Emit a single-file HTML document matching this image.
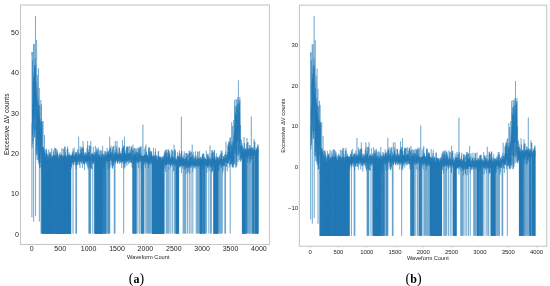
<!DOCTYPE html>
<html><head><meta charset="utf-8"><style>
html,body{margin:0;padding:0;background:#fff;}
body{width:550px;height:286px;overflow:hidden;position:relative;}
svg{position:absolute;left:0;top:0;}
.ta{font-family:"Liberation Sans",sans-serif;font-size:7.0px;fill:#222;}
.tb{font-family:"Liberation Sans",sans-serif;font-size:5.9px;fill:#222;}
.cap{font-family:"Liberation Serif",serif;font-size:14px;fill:#000;}
</style></head><body>
<svg width="550" height="286" viewBox="0 0 550 286">
<rect x="20.5" y="5" width="249" height="239.5" fill="none" stroke="#c8c8c8" stroke-width="1.1"/>
<rect x="299.4" y="5.2" width="247.3" height="241" fill="none" stroke="#c8c8c8" stroke-width="1.1"/>
<polygon points="45.00,155.81 45.50,155.81 46.00,155.80 46.50,155.80 47.00,155.79 47.50,155.78 48.00,155.78 48.50,155.77 49.00,155.77 49.50,155.76 50.00,155.76 50.50,155.75 51.00,155.74 51.50,155.74 52.00,155.73 52.50,155.73 53.00,155.72 53.50,155.71 54.00,155.71 54.50,155.70 55.00,155.70 55.50,155.69 56.00,155.68 56.50,155.68 57.00,155.67 57.50,155.67 58.00,155.66 58.50,155.65 59.00,155.65 59.50,155.64 60.00,155.64 60.50,155.63 61.00,155.63 61.50,155.62 62.00,155.61 62.50,155.61 63.00,155.60 63.50,155.60 64.00,155.59 64.50,155.58 65.00,155.58 65.50,155.57 66.00,155.57 66.50,155.56 67.00,155.55 67.50,155.55 68.00,155.54 68.50,155.54 69.00,155.53 69.50,155.52 70.00,155.52 70.50,155.51 71.00,155.51 71.50,155.50 72.00,155.50 72.50,155.47 73.00,155.44 73.50,155.41 74.00,155.39 74.50,155.36 75.00,155.33 75.50,155.31 76.00,155.28 76.50,155.25 77.00,155.23 77.50,155.20 78.00,155.17 78.50,155.15 79.00,155.12 79.50,155.09 80.00,155.07 80.50,155.04 81.00,155.01 81.50,154.99 82.00,154.96 82.50,154.93 83.00,154.91 83.50,154.88 84.00,154.85 84.50,154.83 85.00,154.80 85.50,154.77 86.00,154.75 86.50,154.72 87.00,154.69 87.50,154.67 88.00,154.64 88.50,154.64 89.00,154.64 89.50,154.64 90.00,154.64 90.50,154.64 91.00,154.64 91.50,154.64 92.00,154.65 92.50,154.65 93.00,154.65 93.50,154.65 94.00,154.65 94.50,154.65 95.00,154.65 95.50,154.65 96.00,154.65 96.50,154.65 97.00,154.65 97.50,154.65 98.00,154.65 98.50,154.65 99.00,154.65 99.50,154.66 100.00,154.66 100.50,154.66 101.00,154.66 101.50,154.66 102.00,154.66 102.50,154.66 103.00,154.66 103.50,154.66 104.00,154.66 104.50,154.66 105.00,154.66 105.50,154.66 106.00,154.66 106.50,154.67 107.00,154.67 107.50,154.67 108.00,154.67 108.50,154.67 109.00,154.67 109.50,154.67 110.00,154.67 110.50,154.67 111.00,154.67 111.50,154.67 112.00,154.67 112.50,154.67 113.00,154.67 113.50,154.67 114.00,154.68 114.50,154.68 115.00,154.68 115.50,154.68 116.00,154.68 116.50,154.68 117.00,154.68 117.50,154.68 118.00,154.68 118.50,154.68 119.00,154.68 119.50,154.68 120.00,154.68 120.50,154.68 121.00,154.68 121.50,154.69 122.00,154.69 122.50,154.69 123.00,154.69 123.50,154.69 124.00,154.69 124.50,154.69 125.00,154.69 125.50,154.69 126.00,154.69 126.50,154.69 127.00,154.69 127.50,154.69 128.00,154.69 128.50,154.69 129.00,154.70 129.50,154.70 130.00,154.70 130.50,154.70 131.00,154.70 131.50,154.70 132.00,154.70 132.50,154.70 133.00,154.70 133.50,154.70 134.00,154.70 134.50,154.70 135.00,154.70 135.50,154.70 136.00,154.71 136.50,154.75 137.00,154.80 137.50,154.85 138.00,154.90 138.50,154.95 139.00,155.00 139.50,155.04 140.00,155.09 140.50,155.14 141.00,155.19 141.50,155.24 142.00,155.29 142.50,155.33 143.00,155.38 143.50,155.43 144.00,155.48 144.50,155.53 145.00,155.58 145.50,155.62 146.00,155.67 146.50,155.72 147.00,155.77 147.50,155.82 148.00,155.87 148.50,155.91 149.00,155.96 149.50,156.01 150.00,156.06 150.50,156.11 151.00,156.16 151.50,156.20 152.00,156.25 152.50,156.30 153.00,156.35 153.50,156.40 154.00,156.45 154.50,156.50 155.00,156.54 155.50,156.59 156.00,156.64 156.50,156.69 157.00,156.74 157.50,156.79 158.00,156.83 158.50,156.88 159.00,156.93 159.50,156.98 160.00,157.03 160.50,157.08 161.00,157.12 161.50,157.17 162.00,157.22 162.50,157.27 163.00,157.32 163.50,157.37 164.00,157.41 164.50,157.46 165.00,157.51 165.50,157.56 166.00,157.61 166.50,157.66 167.00,157.70 167.50,157.75 168.00,157.80 168.50,157.85 169.00,157.90 169.50,157.95 170.00,158.00 170.50,158.04 171.00,158.09 171.50,158.14 172.00,158.19 172.50,158.24 173.00,158.29 173.50,158.33 174.00,158.38 174.50,158.43 175.00,158.48 175.50,158.53 176.00,158.58 176.50,158.62 177.00,158.67 177.50,158.72 178.00,158.77 178.50,158.82 179.00,158.87 179.50,158.91 180.00,158.96 180.50,159.01 181.00,159.06 181.50,159.11 182.00,159.16 182.50,159.20 183.00,159.25 183.50,159.30 184.00,159.35 184.50,159.34 185.00,159.34 185.50,159.33 186.00,159.32 186.50,159.32 187.00,159.31 187.50,159.31 188.00,159.30 188.50,159.29 189.00,159.29 189.50,159.28 190.00,159.28 190.50,159.27 191.00,159.26 191.50,159.26 192.00,159.25 192.50,159.24 193.00,159.24 193.50,159.23 194.00,159.22 194.50,159.22 195.00,159.21 195.50,159.21 196.00,159.20 196.50,159.19 197.00,159.19 197.50,159.18 198.00,159.17 198.50,159.17 199.00,159.16 199.50,159.16 200.00,159.15 200.50,159.14 201.00,159.14 201.50,159.13 202.00,159.12 202.50,159.12 203.00,159.11 203.50,159.11 204.00,159.10 204.50,159.09 205.00,159.09 205.50,159.08 206.00,159.07 206.50,159.07 207.00,159.06 207.50,159.06 208.00,159.05 208.50,159.04 209.00,159.04 209.50,159.03 210.00,159.03 210.50,159.02 211.00,159.01 211.50,159.01 212.00,159.00 212.50,158.99 213.00,158.99 213.50,158.98 214.00,158.97 214.50,158.97 215.00,158.96 215.50,158.96 216.00,158.95 216.50,158.94 217.00,158.94 217.50,158.93 218.00,158.92 218.50,158.92 219.00,158.91 219.50,158.91 220.00,158.90 220.50,158.89 221.00,158.89 221.50,158.88 222.00,158.88 222.50,158.87 223.00,158.86 223.50,158.86 224.00,158.85 224.50,158.27 225.00,157.70 225.50,157.12 226.00,156.55 226.50,155.97 227.00,155.39 227.50,154.82 228.00,154.24 228.50,154.24 228.50,162.56 228.00,162.56 227.50,162.88 227.00,163.21 226.50,163.53 226.00,163.85 225.50,164.18 225.00,164.50 224.50,164.83 224.00,165.15 223.50,165.16 223.00,165.16 222.50,165.17 222.00,165.18 221.50,165.18 221.00,165.19 220.50,165.19 220.00,165.20 219.50,165.21 219.00,165.21 218.50,165.22 218.00,165.22 217.50,165.23 217.00,165.24 216.50,165.24 216.00,165.25 215.50,165.26 215.00,165.26 214.50,165.27 214.00,165.28 213.50,165.28 213.00,165.29 212.50,165.29 212.00,165.30 211.50,165.31 211.00,165.31 210.50,165.32 210.00,165.33 209.50,165.33 209.00,165.34 208.50,165.34 208.00,165.35 207.50,165.36 207.00,165.36 206.50,165.37 206.00,165.38 205.50,165.38 205.00,165.39 204.50,165.39 204.00,165.40 203.50,165.41 203.00,165.41 202.50,165.42 202.00,165.43 201.50,165.43 201.00,165.44 200.50,165.44 200.00,165.45 199.50,165.46 199.00,165.46 198.50,165.47 198.00,165.47 197.50,165.48 197.00,165.49 196.50,165.49 196.00,165.50 195.50,165.51 195.00,165.51 194.50,165.52 194.00,165.53 193.50,165.53 193.00,165.54 192.50,165.54 192.00,165.55 191.50,165.56 191.00,165.56 190.50,165.57 190.00,165.58 189.50,165.58 189.00,165.59 188.50,165.59 188.00,165.60 187.50,165.61 187.00,165.61 186.50,165.62 186.00,165.62 185.50,165.63 185.00,165.64 184.50,165.64 184.00,165.65 183.50,165.60 183.00,165.55 182.50,165.50 182.00,165.45 181.50,165.40 181.00,165.35 180.50,165.30 180.00,165.25 179.50,165.19 179.00,165.14 178.50,165.09 178.00,165.04 177.50,164.99 177.00,164.94 176.50,164.89 176.00,164.84 175.50,164.79 175.00,164.74 174.50,164.69 174.00,164.64 173.50,164.59 173.00,164.54 172.50,164.49 172.00,164.44 171.50,164.39 171.00,164.34 170.50,164.28 170.00,164.23 169.50,164.18 169.00,164.13 168.50,164.08 168.00,164.03 167.50,163.98 167.00,163.93 166.50,163.88 166.00,163.83 165.50,163.78 165.00,163.73 164.50,163.68 164.00,163.63 163.50,163.58 163.00,163.53 162.50,163.48 162.00,163.42 161.50,163.37 161.00,163.32 160.50,163.27 160.00,163.22 159.50,163.17 159.00,163.12 158.50,163.07 158.00,163.02 157.50,162.97 157.00,162.92 156.50,162.87 156.00,162.82 155.50,162.77 155.00,162.72 154.50,162.67 154.00,162.62 153.50,162.57 153.00,162.51 152.50,162.46 152.00,162.41 151.50,162.36 151.00,162.31 150.50,162.26 150.00,162.21 149.50,162.16 149.00,162.11 148.50,162.06 148.00,162.01 147.50,161.96 147.00,161.91 146.50,161.86 146.00,161.81 145.50,161.76 145.00,161.71 144.50,161.65 144.00,161.60 143.50,161.55 143.00,161.50 142.50,161.45 142.00,161.40 141.50,161.35 141.00,161.30 140.50,161.25 140.00,161.20 139.50,161.15 139.00,161.10 138.50,161.05 138.00,161.00 137.50,160.95 137.00,160.90 136.50,160.85 136.00,160.79 135.50,160.80 135.00,160.81 134.50,160.81 134.00,160.82 133.50,160.82 133.00,160.83 132.50,160.84 132.00,160.84 131.50,160.85 131.00,160.85 130.50,160.86 130.00,160.87 129.50,160.87 129.00,160.88 128.50,160.88 128.00,160.89 127.50,160.90 127.00,160.90 126.50,160.91 126.00,160.91 125.50,160.92 125.00,160.92 124.50,160.93 124.00,160.94 123.50,160.94 123.00,160.95 122.50,160.95 122.00,160.96 121.50,160.97 121.00,160.97 120.50,160.98 120.00,160.98 119.50,160.99 119.00,161.00 118.50,161.00 118.00,161.01 117.50,161.01 117.00,161.02 116.50,161.02 116.00,161.03 115.50,161.04 115.00,161.04 114.50,161.05 114.00,161.05 113.50,161.06 113.00,161.07 112.50,161.07 112.00,161.08 111.50,161.08 111.00,161.09 110.50,161.10 110.00,161.10 109.50,161.11 109.00,161.11 108.50,161.12 108.00,161.12 107.50,161.13 107.00,161.14 106.50,161.14 106.00,161.15 105.50,161.15 105.00,161.16 104.50,161.17 104.00,161.17 103.50,161.18 103.00,161.18 102.50,161.19 102.00,161.20 101.50,161.20 101.00,161.21 100.50,161.21 100.00,161.22 99.50,161.22 99.00,161.23 98.50,161.24 98.00,161.24 97.50,161.25 97.00,161.25 96.50,161.26 96.00,161.27 95.50,161.27 95.00,161.28 94.50,161.28 94.00,161.29 93.50,161.30 93.00,161.30 92.50,161.31 92.00,161.31 91.50,161.32 91.00,161.32 90.50,161.33 90.00,161.34 89.50,161.34 89.00,161.35 88.50,161.35 88.00,161.36 87.50,161.38 87.00,161.40 86.50,161.42 86.00,161.44 85.50,161.46 85.00,161.48 84.50,161.50 84.00,161.52 83.50,161.54 83.00,161.56 82.50,161.58 82.00,161.60 81.50,161.62 81.00,161.64 80.50,161.66 80.00,161.68 79.50,161.70 79.00,161.72 78.50,161.74 78.00,161.76 77.50,161.78 77.00,161.80 76.50,161.82 76.00,161.84 75.50,161.86 75.00,161.88 74.50,161.90 74.00,161.92 73.50,161.94 73.00,161.96 72.50,161.98 72.00,162.00 71.50,162.01 71.00,162.01 70.50,162.01 70.00,162.01 69.50,162.02 69.00,162.02 68.50,162.02 68.00,162.02 67.50,162.03 67.00,162.03 66.50,162.03 66.00,162.03 65.50,162.04 65.00,162.04 64.50,162.04 64.00,162.04 63.50,162.05 63.00,162.05 62.50,162.05 62.00,162.05 61.50,162.06 61.00,162.06 60.50,162.06 60.00,162.06 59.50,162.07 59.00,162.07 58.50,162.07 58.00,162.07 57.50,162.08 57.00,162.08 56.50,162.08 56.00,162.08 55.50,162.08 55.00,162.09 54.50,162.09 54.00,162.09 53.50,162.09 53.00,162.10 52.50,162.10 52.00,162.10 51.50,162.10 51.00,162.11 50.50,162.11 50.00,162.11 49.50,162.11 49.00,162.12 48.50,162.12 48.00,162.12 47.50,162.12 47.00,162.13 46.50,162.13 46.00,162.13 45.50,162.13 45.00,162.14" fill="#1f77b4" fill-opacity="0.35"/>
<polygon points="242.00,149.91 242.50,149.91 243.00,149.91 243.50,149.91 244.00,149.91 244.50,149.91 245.00,149.91 245.50,149.91 246.00,149.91 246.50,149.91 247.00,149.91 247.50,149.91 248.00,149.91 248.50,149.91 249.00,149.91 249.50,149.91 250.00,149.91 250.50,149.91 251.00,149.91 251.50,149.91 252.00,149.91 252.50,149.91 253.00,149.91 253.50,149.91 254.00,149.91 254.50,149.91 255.00,149.91 255.50,149.91 256.00,149.91 256.50,149.91 257.00,149.91 257.50,149.91 258.00,149.91 258.50,149.91 258.80,149.91 258.80,155.59 258.50,155.59 258.00,155.59 257.50,155.59 257.00,155.59 256.50,155.59 256.00,155.59 255.50,155.59 255.00,155.59 254.50,155.59 254.00,155.59 253.50,155.59 253.00,155.59 252.50,155.59 252.00,155.59 251.50,155.59 251.00,155.59 250.50,155.59 250.00,155.59 249.50,155.59 249.00,155.59 248.50,155.59 248.00,155.59 247.50,155.59 247.00,155.59 246.50,155.59 246.00,155.59 245.50,155.59 245.00,155.59 244.50,155.59 244.00,155.59 243.50,155.59 243.00,155.59 242.50,155.59 242.00,155.59" fill="#1f77b4" fill-opacity="0.35"/>
<polygon points="323.60,157.26 324.09,157.25 324.59,157.25 325.08,157.24 325.58,157.24 326.08,157.23 326.57,157.22 327.07,157.22 327.57,157.21 328.06,157.21 328.56,157.20 329.05,157.19 329.55,157.19 330.05,157.18 330.54,157.18 331.04,157.17 331.53,157.16 332.03,157.16 332.53,157.15 333.02,157.15 333.52,157.14 334.01,157.14 334.51,157.13 335.01,157.12 335.50,157.12 336.00,157.11 336.49,157.11 336.99,157.10 337.49,157.09 337.98,157.09 338.48,157.08 338.98,157.08 339.47,157.07 339.97,157.06 340.46,157.06 340.96,157.05 341.46,157.05 341.95,157.04 342.45,157.03 342.94,157.03 343.44,157.02 343.94,157.02 344.43,157.01 344.93,157.00 345.42,157.00 345.92,156.99 346.42,156.99 346.91,156.98 347.41,156.97 347.90,156.97 348.40,156.96 348.90,156.96 349.39,156.95 349.89,156.94 350.39,156.94 350.88,156.91 351.38,156.88 351.87,156.86 352.37,156.83 352.87,156.80 353.36,156.78 353.86,156.75 354.35,156.72 354.85,156.69 355.35,156.67 355.84,156.64 356.34,156.61 356.83,156.59 357.33,156.56 357.83,156.53 358.32,156.51 358.82,156.48 359.31,156.45 359.81,156.43 360.31,156.40 360.80,156.37 361.30,156.34 361.79,156.32 362.29,156.29 362.79,156.26 363.28,156.24 363.78,156.21 364.28,156.18 364.77,156.16 365.27,156.13 365.76,156.10 366.26,156.07 366.76,156.08 367.25,156.08 367.75,156.08 368.24,156.08 368.74,156.08 369.24,156.08 369.73,156.08 370.23,156.08 370.72,156.08 371.22,156.08 371.72,156.08 372.21,156.08 372.71,156.08 373.20,156.08 373.70,156.08 374.20,156.09 374.69,156.09 375.19,156.09 375.69,156.09 376.18,156.09 376.68,156.09 377.17,156.09 377.67,156.09 378.17,156.09 378.66,156.09 379.16,156.09 379.65,156.09 380.15,156.09 380.65,156.09 381.14,156.09 381.64,156.10 382.13,156.10 382.63,156.10 383.13,156.10 383.62,156.10 384.12,156.10 384.61,156.10 385.11,156.10 385.61,156.10 386.10,156.10 386.60,156.10 387.10,156.10 387.59,156.10 388.09,156.10 388.58,156.11 389.08,156.11 389.58,156.11 390.07,156.11 390.57,156.11 391.06,156.11 391.56,156.11 392.06,156.11 392.55,156.11 393.05,156.11 393.54,156.11 394.04,156.11 394.54,156.11 395.03,156.11 395.53,156.11 396.02,156.12 396.52,156.12 397.02,156.12 397.51,156.12 398.01,156.12 398.50,156.12 399.00,156.12 399.50,156.12 399.99,156.12 400.49,156.12 400.99,156.12 401.48,156.12 401.98,156.12 402.47,156.12 402.97,156.12 403.47,156.13 403.96,156.13 404.46,156.13 404.95,156.13 405.45,156.13 405.95,156.13 406.44,156.13 406.94,156.13 407.43,156.13 407.93,156.13 408.43,156.13 408.92,156.13 409.42,156.13 409.91,156.13 410.41,156.14 410.91,156.14 411.40,156.14 411.90,156.14 412.40,156.14 412.89,156.14 413.39,156.14 413.88,156.14 414.38,156.19 414.88,156.24 415.37,156.29 415.87,156.34 416.36,156.38 416.86,156.43 417.36,156.48 417.85,156.53 418.35,156.58 418.84,156.63 419.34,156.68 419.84,156.73 420.33,156.78 420.83,156.82 421.32,156.87 421.82,156.92 422.32,156.97 422.81,157.02 423.31,157.07 423.81,157.12 424.30,157.17 424.80,157.22 425.29,157.26 425.79,157.31 426.29,157.36 426.78,157.41 427.28,157.46 427.77,157.51 428.27,157.56 428.77,157.61 429.26,157.65 429.76,157.70 430.25,157.75 430.75,157.80 431.25,157.85 431.74,157.90 432.24,157.95 432.73,158.00 433.23,158.05 433.73,158.09 434.22,158.14 434.72,158.19 435.22,158.24 435.71,158.29 436.21,158.34 436.70,158.39 437.20,158.44 437.70,158.49 438.19,158.53 438.69,158.58 439.18,158.63 439.68,158.68 440.18,158.73 440.67,158.78 441.17,158.83 441.66,158.88 442.16,158.93 442.66,158.97 443.15,159.02 443.65,159.07 444.14,159.12 444.64,159.17 445.14,159.22 445.63,159.27 446.13,159.32 446.62,159.37 447.12,159.41 447.62,159.46 448.11,159.51 448.61,159.56 449.11,159.61 449.60,159.66 450.10,159.71 450.59,159.76 451.09,159.80 451.59,159.85 452.08,159.90 452.58,159.95 453.07,160.00 453.57,160.05 454.07,160.10 454.56,160.15 455.06,160.20 455.55,160.24 456.05,160.29 456.55,160.34 457.04,160.39 457.54,160.44 458.03,160.49 458.53,160.54 459.03,160.59 459.52,160.64 460.02,160.68 460.52,160.73 461.01,160.78 461.51,160.83 462.00,160.82 462.50,160.82 463.00,160.81 463.49,160.81 463.99,160.80 464.48,160.79 464.98,160.79 465.48,160.78 465.97,160.77 466.47,160.77 466.96,160.76 467.46,160.76 467.96,160.75 468.45,160.74 468.95,160.74 469.44,160.73 469.94,160.72 470.44,160.72 470.93,160.71 471.43,160.70 471.93,160.70 472.42,160.69 472.92,160.69 473.41,160.68 473.91,160.67 474.41,160.67 474.90,160.66 475.40,160.65 475.89,160.65 476.39,160.64 476.89,160.64 477.38,160.63 477.88,160.62 478.37,160.62 478.87,160.61 479.37,160.60 479.86,160.60 480.36,160.59 480.85,160.59 481.35,160.58 481.85,160.57 482.34,160.57 482.84,160.56 483.34,160.55 483.83,160.55 484.33,160.54 484.82,160.53 485.32,160.53 485.82,160.52 486.31,160.52 486.81,160.51 487.30,160.50 487.80,160.50 488.30,160.49 488.79,160.48 489.29,160.48 489.78,160.47 490.28,160.47 490.78,160.46 491.27,160.45 491.77,160.45 492.26,160.44 492.76,160.43 493.26,160.43 493.75,160.42 494.25,160.41 494.74,160.41 495.24,160.40 495.74,160.40 496.23,160.39 496.73,160.38 497.23,160.38 497.72,160.37 498.22,160.36 498.71,160.36 499.21,160.35 499.71,160.35 500.20,160.34 500.70,160.33 501.19,160.33 501.69,159.74 502.19,159.16 502.68,158.58 503.18,158.00 503.67,157.42 504.17,156.84 504.67,156.25 505.16,155.67 505.66,155.67 505.66,164.07 505.16,164.07 504.67,164.40 504.17,164.73 503.67,165.05 503.18,165.38 502.68,165.71 502.19,166.03 501.69,166.36 501.19,166.69 500.70,166.70 500.20,166.70 499.71,166.71 499.21,166.71 498.71,166.72 498.22,166.73 497.72,166.73 497.23,166.74 496.73,166.75 496.23,166.75 495.74,166.76 495.24,166.76 494.74,166.77 494.25,166.78 493.75,166.78 493.26,166.79 492.76,166.80 492.26,166.80 491.77,166.81 491.27,166.82 490.78,166.82 490.28,166.83 489.78,166.83 489.29,166.84 488.79,166.85 488.30,166.85 487.80,166.86 487.30,166.87 486.81,166.87 486.31,166.88 485.82,166.88 485.32,166.89 484.82,166.90 484.33,166.90 483.83,166.91 483.34,166.92 482.84,166.92 482.34,166.93 481.85,166.94 481.35,166.94 480.85,166.95 480.36,166.95 479.86,166.96 479.37,166.97 478.87,166.97 478.37,166.98 477.88,166.99 477.38,166.99 476.89,167.00 476.39,167.00 475.89,167.01 475.40,167.02 474.90,167.02 474.41,167.03 473.91,167.04 473.41,167.04 472.92,167.05 472.42,167.06 471.93,167.06 471.43,167.07 470.93,167.07 470.44,167.08 469.94,167.09 469.44,167.09 468.95,167.10 468.45,167.11 467.96,167.11 467.46,167.12 466.96,167.12 466.47,167.13 465.97,167.14 465.48,167.14 464.98,167.15 464.48,167.16 463.99,167.16 463.49,167.17 463.00,167.17 462.50,167.18 462.00,167.19 461.51,167.19 461.01,167.14 460.52,167.09 460.02,167.04 459.52,166.99 459.03,166.94 458.53,166.89 458.03,166.84 457.54,166.79 457.04,166.73 456.55,166.68 456.05,166.63 455.55,166.58 455.06,166.53 454.56,166.48 454.07,166.43 453.57,166.38 453.07,166.33 452.58,166.27 452.08,166.22 451.59,166.17 451.09,166.12 450.59,166.07 450.10,166.02 449.60,165.97 449.11,165.92 448.61,165.87 448.11,165.81 447.62,165.76 447.12,165.71 446.62,165.66 446.13,165.61 445.63,165.56 445.14,165.51 444.64,165.46 444.14,165.41 443.65,165.36 443.15,165.30 442.66,165.25 442.16,165.20 441.66,165.15 441.17,165.10 440.67,165.05 440.18,165.00 439.68,164.95 439.18,164.90 438.69,164.84 438.19,164.79 437.70,164.74 437.20,164.69 436.70,164.64 436.21,164.59 435.71,164.54 435.22,164.49 434.72,164.44 434.22,164.38 433.73,164.33 433.23,164.28 432.73,164.23 432.24,164.18 431.74,164.13 431.25,164.08 430.75,164.03 430.25,163.98 429.76,163.93 429.26,163.87 428.77,163.82 428.27,163.77 427.77,163.72 427.28,163.67 426.78,163.62 426.29,163.57 425.79,163.52 425.29,163.47 424.80,163.41 424.30,163.36 423.81,163.31 423.31,163.26 422.81,163.21 422.32,163.16 421.82,163.11 421.32,163.06 420.83,163.01 420.33,162.95 419.84,162.90 419.34,162.85 418.84,162.80 418.35,162.75 417.85,162.70 417.36,162.65 416.86,162.60 416.36,162.55 415.87,162.49 415.37,162.44 414.88,162.39 414.38,162.34 413.88,162.29 413.39,162.30 412.89,162.30 412.40,162.31 411.90,162.31 411.40,162.32 410.91,162.33 410.41,162.33 409.91,162.34 409.42,162.34 408.92,162.35 408.43,162.36 407.93,162.36 407.43,162.37 406.94,162.37 406.44,162.38 405.95,162.39 405.45,162.39 404.95,162.40 404.46,162.40 403.96,162.41 403.47,162.42 402.97,162.42 402.47,162.43 401.98,162.43 401.48,162.44 400.99,162.45 400.49,162.45 399.99,162.46 399.50,162.46 399.00,162.47 398.50,162.47 398.01,162.48 397.51,162.49 397.02,162.49 396.52,162.50 396.02,162.50 395.53,162.51 395.03,162.52 394.54,162.52 394.04,162.53 393.54,162.53 393.05,162.54 392.55,162.55 392.06,162.55 391.56,162.56 391.06,162.56 390.57,162.57 390.07,162.58 389.58,162.58 389.08,162.59 388.58,162.59 388.09,162.60 387.59,162.61 387.10,162.61 386.60,162.62 386.10,162.62 385.61,162.63 385.11,162.64 384.61,162.64 384.12,162.65 383.62,162.65 383.13,162.66 382.63,162.67 382.13,162.67 381.64,162.68 381.14,162.68 380.65,162.69 380.15,162.69 379.65,162.70 379.16,162.71 378.66,162.71 378.17,162.72 377.67,162.72 377.17,162.73 376.68,162.74 376.18,162.74 375.69,162.75 375.19,162.75 374.69,162.76 374.20,162.77 373.70,162.77 373.20,162.78 372.71,162.78 372.21,162.79 371.72,162.80 371.22,162.80 370.72,162.81 370.23,162.81 369.73,162.82 369.24,162.83 368.74,162.83 368.24,162.84 367.75,162.84 367.25,162.85 366.76,162.86 366.26,162.86 365.76,162.88 365.27,162.90 364.77,162.92 364.28,162.94 363.78,162.96 363.28,162.98 362.79,163.00 362.29,163.02 361.79,163.04 361.30,163.06 360.80,163.09 360.31,163.11 359.81,163.13 359.31,163.15 358.82,163.17 358.32,163.19 357.83,163.21 357.33,163.23 356.83,163.25 356.34,163.27 355.84,163.29 355.35,163.31 354.85,163.33 354.35,163.35 353.86,163.37 353.36,163.39 352.87,163.41 352.37,163.43 351.87,163.45 351.38,163.47 350.88,163.49 350.39,163.51 349.89,163.52 349.39,163.52 348.90,163.52 348.40,163.52 347.90,163.52 347.41,163.53 346.91,163.53 346.42,163.53 345.92,163.53 345.42,163.54 344.93,163.54 344.43,163.54 343.94,163.54 343.44,163.55 342.94,163.55 342.45,163.55 341.95,163.55 341.46,163.56 340.96,163.56 340.46,163.56 339.97,163.56 339.47,163.57 338.98,163.57 338.48,163.57 337.98,163.57 337.49,163.58 336.99,163.58 336.49,163.58 336.00,163.58 335.50,163.59 335.01,163.59 334.51,163.59 334.01,163.59 333.52,163.60 333.02,163.60 332.53,163.60 332.03,163.60 331.53,163.61 331.04,163.61 330.54,163.61 330.05,163.61 329.55,163.62 329.05,163.62 328.56,163.62 328.06,163.62 327.57,163.62 327.07,163.63 326.57,163.63 326.08,163.63 325.58,163.63 325.08,163.64 324.59,163.64 324.09,163.64 323.60,163.64" fill="#1f77b4" fill-opacity="0.35"/>
<polygon points="519.05,151.30 519.55,151.30 520.05,151.30 520.54,151.30 521.04,151.30 521.53,151.30 522.03,151.30 522.53,151.30 523.02,151.30 523.52,151.30 524.01,151.30 524.51,151.30 525.01,151.30 525.50,151.30 526.00,151.30 526.49,151.30 526.99,151.30 527.49,151.30 527.98,151.30 528.48,151.30 528.97,151.30 529.47,151.30 529.97,151.30 530.46,151.30 530.96,151.30 531.45,151.30 531.95,151.30 532.45,151.30 532.94,151.30 533.44,151.30 533.94,151.30 534.43,151.30 534.93,151.30 535.42,151.30 535.72,151.30 535.72,157.03 535.42,157.03 534.93,157.03 534.43,157.03 533.94,157.03 533.44,157.03 532.94,157.03 532.45,157.03 531.95,157.03 531.45,157.03 530.96,157.03 530.46,157.03 529.97,157.03 529.47,157.03 528.97,157.03 528.48,157.03 527.98,157.03 527.49,157.03 526.99,157.03 526.49,157.03 526.00,157.03 525.50,157.03 525.01,157.03 524.51,157.03 524.01,157.03 523.52,157.03 523.02,157.03 522.53,157.03 522.03,157.03 521.53,157.03 521.04,157.03 520.54,157.03 520.05,157.03 519.55,157.03 519.05,157.03" fill="#1f77b4" fill-opacity="0.35"/>
<path d="M31.80 55.0L31.86 52.0L31.91 217.2L31.97 131.4L32.03 123.2L32.08 141.4L32.14 148.0L32.20 133.3L32.25 132.7L32.31 131.6L32.37 52.0L32.42 96.2L32.48 121.8L32.54 109.5L32.59 135.4L32.65 60.0L32.71 108.0L32.76 113.5L32.82 144.0L32.88 104.1L32.93 129.9L32.99 141.0L33.05 138.1L33.10 124.7L33.16 90.4L33.22 82.4L33.27 116.9L33.33 113.3L33.39 62.0L33.44 60.0L33.50 44.0L33.56 113.2L33.61 221.6L33.67 76.6L33.73 125.6L33.78 78.8L33.84 80.3L33.90 129.7L33.95 128.2L34.01 72.9L34.07 101.3L34.12 115.2L34.18 104.4L34.24 92.9L34.29 105.2L34.35 44.0L34.41 60.0L34.46 133.1L34.52 122.7L34.58 65.0L34.63 137.5L34.69 76.2L34.75 67.2L34.80 98.7L34.86 137.1L34.92 127.2L34.97 76.6L35.03 104.8L35.09 68.2L35.14 71.2L35.20 85.2L35.26 58.0L35.31 117.9L35.37 89.3L35.43 105.9L35.48 16.0L35.54 216.0L35.60 125.2L35.65 130.2L35.71 101.3L35.77 65.0L35.82 77.1L35.88 92.4L35.94 100.0L35.99 92.5L36.05 129.2L36.11 92.1L36.16 81.8L36.22 92.3L36.28 154.1L36.33 98.1L36.39 93.5L36.45 129.6L36.50 100.6L36.56 155.4L36.62 40.0L36.67 121.6L36.73 142.1L36.79 149.0L36.84 120.6L36.90 87.6L36.96 150.5L37.01 126.7L37.07 127.7L37.13 160.0L37.18 111.1L37.24 131.7L37.30 109.4L37.35 119.0L37.41 144.4L37.47 75.0L37.52 131.6L37.58 109.8L37.64 136.6L37.69 139.2L37.75 107.9L37.81 154.1L37.86 133.0L37.92 97.6L37.98 138.1L38.03 144.9L38.09 159.4L38.15 133.2L38.20 100.8L38.26 141.4L38.32 104.1L38.37 163.6L38.43 68.0L38.49 104.3L38.54 121.6L38.60 118.7L38.66 157.7L38.71 119.3L38.77 136.2L38.83 111.4L38.88 161.1L38.94 118.2L39.00 139.5L39.05 140.1L39.11 141.9L39.17 105.3L39.22 152.0L39.28 157.9L39.34 88.0L39.39 221.6L39.45 114.7L39.51 162.6L39.56 158.7L39.62 119.3L39.68 167.9L39.73 160.4L39.79 134.1L39.85 167.1L39.90 107.9L39.96 105.1L40.02 114.8L40.07 167.5L40.13 121.1L40.19 154.5L40.24 140.4L40.30 130.9L40.36 162.5L40.41 140.6L40.47 153.9L40.53 139.3L40.58 142.9L40.64 139.5L40.70 123.0L40.75 130.6L40.81 129.9L40.87 100.0L40.92 145.4L40.98 118.7L41.04 233.6L41.09 172.3L41.15 151.7L41.21 131.6L41.26 144.3L41.32 142.1L41.38 127.4L41.43 142.2L41.49 104.0L41.55 147.1L41.60 173.4L41.66 147.3L41.72 233.6L41.77 121.6L41.83 156.8L41.89 122.9L41.94 127.5L42.00 143.6L42.06 233.6L42.11 168.2L42.17 121.0L42.23 233.6L42.28 165.0L42.34 233.6L42.40 146.1L42.45 233.6L42.51 167.3L42.57 233.6L42.62 147.2L42.68 163.1L42.74 233.6L42.79 161.0L42.85 233.6L42.91 147.3L42.96 233.6L43.02 153.6L43.08 121.0L43.13 233.6L43.19 150.7L43.25 233.6L43.30 150.9L43.36 233.6L43.42 147.8L43.47 233.6L43.53 147.3L43.59 233.6L43.64 150.4L43.70 163.4L43.76 233.6L43.81 150.6L43.87 233.6L43.93 159.4L43.98 233.6L44.04 151.4L44.10 159.8L44.15 233.6L44.21 152.5L44.27 233.6L44.32 164.2L44.38 233.6L44.44 162.7L44.49 135.0L44.55 233.6L44.61 233.6L44.66 158.6L44.72 233.6L44.78 149.5L44.83 165.3L44.89 233.6L44.95 160.6L45.00 233.6L45.06 163.9L45.12 233.6L45.17 153.0L45.23 156.2L45.29 157.8L45.34 157.5L45.40 165.3L45.46 156.4L45.51 233.6L45.57 160.6L45.63 154.2L45.68 155.0L45.74 160.3L45.80 157.9L45.85 159.4L45.91 149.6L45.97 233.6L46.02 159.0L46.08 233.6L46.14 157.0L46.19 233.6L46.25 158.5L46.31 233.6L46.36 148.7L46.42 233.6L46.48 159.3L46.53 162.1L46.59 233.6L46.65 150.9L46.70 233.6L46.76 157.1L46.82 233.6L46.87 153.0L46.93 155.2L46.99 233.6L47.04 162.1L47.10 233.6L47.16 161.1L47.21 233.6L47.27 154.1L47.33 233.6L47.38 165.2L47.44 233.6L47.50 160.3L47.55 159.6L47.61 233.6L47.67 155.5L47.72 233.6L47.78 163.4L47.84 233.6L47.89 161.4L47.95 233.6L48.01 161.7L48.06 233.6L48.12 159.7L48.18 233.6L48.23 168.4L48.29 159.5L48.35 233.6L48.40 160.7L48.46 233.6L48.52 159.7L48.57 233.6L48.63 159.6L48.69 233.6L48.74 157.5L48.80 149.5L48.86 233.6L48.91 156.8L48.97 233.6L49.03 156.8L49.08 233.6L49.14 154.0L49.20 233.6L49.25 157.3L49.31 233.6L49.37 160.5L49.42 233.6L49.48 153.0L49.54 160.1L49.59 233.6L49.65 152.4L49.71 233.6L49.76 158.8L49.82 233.6L49.88 153.8L49.93 166.9L49.99 233.6L50.05 154.8L50.10 160.2L50.16 160.0L50.22 161.1L50.27 159.5L50.33 233.6L50.39 163.3L50.44 164.1L50.50 154.5L50.56 157.1L50.61 151.8L50.67 158.2L50.73 168.3L50.78 233.6L50.84 160.1L50.90 233.6L50.95 160.6L51.01 233.6L51.07 158.1L51.12 233.6L51.18 158.2L51.24 233.6L51.29 157.9L51.35 158.4L51.41 233.6L51.46 166.1L51.52 233.6L51.58 148.5L51.63 233.6L51.69 157.6L51.75 233.6L51.80 166.8L51.86 233.6L51.92 161.1L51.97 159.9L52.03 233.6L52.09 155.7L52.14 233.6L52.20 157.8L52.26 233.6L52.31 168.2L52.37 233.6L52.43 157.6L52.48 233.6L52.54 160.7L52.60 155.5L52.65 233.6L52.71 163.5L52.77 233.6L52.82 156.9L52.88 233.6L52.94 160.9L52.99 233.6L53.05 158.8L53.11 233.6L53.16 165.3L53.22 233.6L53.28 149.9L53.33 153.3L53.39 233.6L53.45 164.6L53.50 233.6L53.56 152.2L53.62 233.6L53.67 161.8L53.73 233.6L53.79 154.9L53.84 161.0L53.90 158.8L53.96 157.9L54.01 165.0L54.07 159.6L54.13 158.3L54.18 158.9L54.24 156.1L54.30 233.6L54.35 158.1L54.41 164.5L54.47 155.3L54.52 160.4L54.58 161.9L54.64 147.8L54.69 158.1L54.75 233.6L54.81 157.4L54.86 158.8L54.92 233.6L54.98 155.8L55.03 233.6L55.09 155.0L55.15 233.6L55.20 157.1L55.26 233.6L55.32 162.7L55.37 233.6L55.43 148.7L55.49 164.0L55.54 233.6L55.60 158.6L55.66 233.6L55.71 148.1L55.77 233.6L55.83 158.6L55.88 156.2L55.94 233.6L56.00 159.0L56.05 233.6L56.11 162.2L56.17 233.6L56.22 160.3L56.28 233.6L56.34 154.6L56.39 233.6L56.45 164.5L56.51 162.9L56.56 233.6L56.62 149.2L56.68 233.6L56.73 152.4L56.79 233.6L56.85 163.2L56.90 233.6L56.96 155.5L57.02 233.6L57.07 156.4L57.13 157.7L57.19 233.6L57.24 159.2L57.30 233.6L57.36 168.9L57.41 233.6L57.47 150.5L57.53 233.6L57.58 152.8L57.64 158.8L57.70 233.6L57.75 157.1L57.81 233.6L57.87 161.1L57.92 233.6L57.98 158.0L58.04 233.6L58.09 156.9L58.15 169.4L58.21 233.6L58.26 233.6L58.32 161.9L58.38 154.6L58.43 233.6L58.49 162.0L58.55 233.6L58.60 162.4L58.66 233.6L58.72 163.5L58.77 233.6L58.83 159.7L58.89 159.2L58.94 233.6L59.00 164.3L59.06 233.6L59.11 160.0L59.17 158.7L59.23 233.6L59.28 233.6L59.34 161.4L59.40 160.6L59.45 233.6L59.51 153.8L59.57 233.6L59.62 159.3L59.68 233.6L59.74 158.7L59.79 233.6L59.85 158.7L59.91 233.6L59.96 156.9L60.02 152.1L60.08 233.6L60.13 155.2L60.19 233.6L60.25 156.3L60.30 233.6L60.36 160.8L60.42 233.6L60.47 160.8L60.53 155.7L60.59 233.6L60.64 158.1L60.70 233.6L60.76 162.1L60.81 233.6L60.87 162.8L60.93 157.5L60.98 233.6L61.04 233.6L61.10 154.1L61.15 163.1L61.21 233.6L61.27 162.7L61.32 233.6L61.38 153.9L61.44 233.6L61.49 164.2L61.55 233.6L61.61 156.3L61.66 233.6L61.72 161.0L61.78 155.1L61.83 233.6L61.89 148.3L61.95 233.6L62.00 159.8L62.06 233.6L62.12 158.5L62.17 155.5L62.23 233.6L62.29 233.6L62.34 161.6L62.40 160.2L62.46 233.6L62.51 156.8L62.57 233.6L62.63 160.5L62.68 233.6L62.74 159.2L62.80 164.0L62.85 233.6L62.91 163.2L62.97 233.6L63.02 157.5L63.08 233.6L63.14 160.2L63.19 233.6L63.25 154.5L63.31 148.7L63.36 233.6L63.42 157.1L63.48 233.6L63.53 159.3L63.59 233.6L63.65 161.0L63.70 233.6L63.76 155.9L63.82 233.6L63.87 158.5L63.93 233.6L63.99 158.8L64.04 156.4L64.10 233.6L64.16 149.1L64.21 233.6L64.27 156.5L64.33 233.6L64.38 155.2L64.44 233.6L64.50 146.5L64.55 233.6L64.61 157.2L64.67 158.4L64.72 233.6L64.78 162.0L64.84 233.6L64.89 158.2L64.95 233.6L65.01 158.0L65.06 160.4L65.12 233.6L65.18 156.4L65.23 233.6L65.29 146.8L65.35 233.6L65.40 155.3L65.46 233.6L65.52 152.5L65.57 233.6L65.63 162.6L65.69 233.6L65.74 160.5L65.80 161.4L65.86 233.6L65.91 157.3L65.97 233.6L66.03 165.3L66.08 233.6L66.14 162.3L66.20 158.3L66.25 233.6L66.31 159.8L66.37 233.6L66.42 161.0L66.48 233.6L66.54 164.2L66.59 233.6L66.65 155.8L66.71 158.2L66.76 233.6L66.82 156.5L66.88 233.6L66.93 163.8L66.99 233.6L67.05 149.4L67.10 233.6L67.16 161.6L67.22 233.6L67.27 159.1L67.33 233.6L67.38 156.0L67.44 233.6L67.50 163.9L67.55 146.5L67.61 233.6L67.67 156.7L67.72 233.6L67.78 148.9L67.84 233.6L67.89 159.5L67.95 157.5L68.01 233.6L68.06 154.5L68.12 233.6L68.18 162.1L68.23 233.6L68.29 164.3L68.35 233.6L68.40 157.9L68.46 233.6L68.52 160.6L68.57 157.4L68.63 233.6L68.69 159.5L68.74 233.6L68.80 153.9L68.86 233.6L68.91 165.1L68.97 233.6L69.03 152.3L69.08 159.6L69.14 233.6L69.20 155.1L69.25 233.6L69.31 164.6L69.37 233.6L69.42 154.8L69.48 233.6L69.54 156.0L69.59 161.9L69.65 233.6L69.71 157.5L69.76 233.6L69.82 154.8L69.88 233.6L69.93 161.3L69.99 233.6L70.05 158.4L70.10 156.4L70.16 233.6L70.22 156.3L70.27 233.6L70.33 158.2L70.39 233.6L70.44 156.4L70.50 233.6L70.56 160.7L70.61 233.6L70.67 156.8L70.73 233.6L70.78 158.0L70.84 159.2L70.90 154.9L70.95 154.4L71.01 163.8L71.07 166.1L71.12 160.7L71.18 168.7L71.24 159.5L71.29 155.9L71.35 155.8L71.41 167.0L71.46 160.0L71.52 155.2L71.58 162.7L71.63 157.4L71.69 156.4L71.75 157.2L71.80 163.6L71.86 159.8L71.92 159.8L71.97 160.6L72.03 158.5L72.09 161.8L72.14 156.4L72.20 152.4L72.26 161.7L72.31 162.0L72.37 157.2L72.43 163.4L72.48 162.5L72.54 158.5L72.60 152.5L72.65 157.5L72.71 156.0L72.77 158.6L72.82 154.1L72.88 164.1L72.94 159.1L72.99 148.7L73.05 233.6L73.11 154.0L73.16 159.0L73.22 157.5L73.28 157.5L73.33 150.9L73.39 165.6L73.45 155.7L73.50 163.7L73.56 159.5L73.62 160.3L73.67 154.9L73.73 155.1L73.79 160.2L73.84 156.0L73.90 160.9L73.96 155.8L74.01 161.6L74.07 156.0L74.13 161.6L74.18 162.1L74.24 147.7L74.30 154.8L74.35 157.7L74.41 158.3L74.47 156.5L74.52 162.0L74.58 159.8L74.64 158.4L74.69 159.3L74.75 159.3L74.81 158.1L74.86 160.6L74.92 163.2L74.98 165.0L75.03 162.0L75.09 157.1L75.15 155.5L75.20 154.2L75.26 157.4L75.32 158.0L75.37 160.8L75.43 152.6L75.49 158.0L75.54 161.9L75.60 153.4L75.66 164.4L75.71 159.4L75.77 154.3L75.83 233.6L75.88 160.2L75.94 152.6L76.00 154.7L76.05 152.1L76.11 168.9L76.17 158.4L76.22 154.5L76.28 157.1L76.34 155.6L76.39 155.5L76.45 156.1L76.51 233.6L76.56 153.3L76.62 156.2L76.68 158.2L76.73 156.9L76.79 162.4L76.85 151.7L76.90 157.6L76.96 162.0L77.02 163.7L77.07 164.3L77.13 156.8L77.19 158.9L77.24 156.9L77.30 155.0L77.36 157.8L77.41 155.9L77.47 149.3L77.53 156.1L77.58 165.4L77.64 157.1L77.70 159.5L77.75 158.5L77.81 164.0L77.87 156.5L77.92 158.7L77.98 159.4L78.04 160.9L78.09 160.5L78.15 157.9L78.21 156.6L78.26 161.5L78.32 155.2L78.38 154.9L78.43 157.8L78.49 152.3L78.55 155.6L78.60 136.7L78.66 161.9L78.72 153.6L78.77 157.8L78.83 155.4L78.89 154.4L78.94 160.9L79.00 157.2L79.06 153.3L79.11 164.7L79.17 157.9L79.23 159.8L79.28 155.7L79.34 164.2L79.40 165.1L79.45 156.5L79.51 154.4L79.57 155.5L79.62 158.6L79.68 158.1L79.74 156.0L79.79 158.7L79.85 158.0L79.91 161.0L79.96 160.3L80.02 168.0L80.08 162.3L80.13 158.4L80.19 146.2L80.25 161.9L80.30 161.5L80.36 149.0L80.42 158.2L80.47 156.3L80.53 157.5L80.59 153.6L80.64 160.9L80.70 157.6L80.76 156.8L80.81 160.7L80.87 162.4L80.93 162.1L80.98 154.6L81.04 157.1L81.10 158.4L81.15 157.5L81.21 158.4L81.27 158.5L81.32 149.8L81.38 153.8L81.44 152.2L81.49 163.9L81.55 162.2L81.61 157.4L81.66 155.9L81.72 147.6L81.78 157.7L81.83 152.9L81.89 162.1L81.95 147.3L82.00 153.7L82.06 158.1L82.12 159.4L82.17 158.2L82.23 155.9L82.29 155.4L82.34 160.6L82.40 158.6L82.46 148.1L82.51 167.9L82.57 158.1L82.63 157.3L82.68 155.2L82.74 161.6L82.80 153.3L82.85 156.2L82.91 153.8L82.97 158.9L83.02 141.0L83.08 153.6L83.14 155.3L83.19 153.7L83.25 164.0L83.31 146.8L83.36 153.0L83.42 148.8L83.48 163.8L83.53 159.9L83.59 157.5L83.65 156.7L83.70 156.6L83.76 160.9L83.82 156.1L83.87 162.5L83.93 156.5L83.99 159.1L84.04 156.9L84.10 160.4L84.16 163.0L84.21 158.8L84.27 159.2L84.33 153.2L84.38 162.9L84.44 165.0L84.50 157.9L84.55 170.0L84.61 161.9L84.67 162.2L84.72 161.6L84.78 152.6L84.84 160.7L84.89 159.4L84.95 156.7L85.01 160.3L85.06 161.4L85.12 156.3L85.18 159.6L85.23 157.9L85.29 163.2L85.35 160.0L85.40 156.5L85.46 156.2L85.52 154.5L85.57 161.6L85.63 152.1L85.69 154.5L85.74 160.3L85.80 160.6L85.86 159.4L85.91 156.1L85.97 161.3L86.03 158.9L86.08 163.5L86.14 154.2L86.20 154.8L86.25 160.5L86.31 159.0L86.37 161.1L86.42 155.6L86.48 158.5L86.54 156.0L86.59 157.7L86.65 153.0L86.71 157.6L86.76 157.1L86.82 161.6L86.88 164.0L86.93 148.4L86.99 149.3L87.05 158.3L87.10 165.9L87.16 154.8L87.22 160.5L87.27 161.1L87.33 158.8L87.39 161.2L87.44 154.0L87.50 156.9L87.56 156.8L87.61 141.0L87.67 162.4L87.73 157.6L87.78 145.6L87.84 159.2L87.90 157.2L87.95 167.5L88.01 159.4L88.07 156.4L88.12 169.5L88.18 156.9L88.24 157.8L88.29 152.3L88.35 155.0L88.41 155.5L88.46 155.0L88.52 160.0L88.58 157.4L88.63 151.9L88.69 155.8L88.75 152.1L88.80 153.0L88.86 233.6L88.92 149.4L88.97 158.1L89.03 161.3L89.09 154.8L89.14 157.9L89.20 167.1L89.26 153.0L89.31 154.7L89.37 155.3L89.43 233.6L89.48 160.2L89.54 145.8L89.60 160.2L89.65 159.5L89.71 157.0L89.77 163.6L89.82 145.4L89.88 159.0L89.94 157.3L89.99 233.6L90.05 162.9L90.11 158.8L90.16 159.9L90.22 158.2L90.28 157.2L90.33 168.0L90.39 159.8L90.45 158.6L90.50 158.3L90.56 233.6L90.62 146.2L90.67 153.4L90.73 152.3L90.79 141.0L90.84 145.4L90.90 168.3L90.96 161.8L91.01 162.7L91.07 154.7L91.13 157.0L91.18 154.2L91.24 158.4L91.30 155.4L91.35 158.3L91.41 155.5L91.47 157.3L91.52 168.6L91.58 159.0L91.64 161.0L91.69 160.4L91.75 158.7L91.81 153.7L91.86 158.4L91.92 158.7L91.98 169.2L92.03 153.3L92.09 155.1L92.15 161.6L92.20 157.2L92.26 156.1L92.32 152.9L92.37 157.4L92.43 163.7L92.49 153.5L92.54 157.6L92.60 161.1L92.66 157.9L92.71 155.5L92.77 233.6L92.83 157.9L92.88 162.9L92.94 154.9L93.00 161.4L93.05 155.7L93.11 158.9L93.17 158.9L93.22 146.8L93.28 162.8L93.34 156.7L93.39 159.6L93.45 164.1L93.51 164.3L93.56 157.0L93.62 159.8L93.68 156.6L93.73 158.3L93.79 156.1L93.85 154.8L93.90 157.2L93.96 158.9L94.02 159.0L94.07 153.5L94.13 157.1L94.19 161.1L94.24 162.2L94.30 161.7L94.36 162.2L94.41 157.6L94.47 151.8L94.53 153.2L94.58 158.4L94.64 156.4L94.70 161.3L94.75 159.7L94.81 233.6L94.87 155.4L94.92 233.6L94.98 157.5L95.04 233.6L95.09 153.0L95.15 153.3L95.21 233.6L95.26 233.6L95.32 164.4L95.38 145.8L95.43 233.6L95.49 157.1L95.55 233.6L95.60 154.4L95.66 233.6L95.72 162.7L95.77 151.8L95.83 233.6L95.89 158.2L95.94 233.6L96.00 158.8L96.06 233.6L96.11 162.0L96.17 233.6L96.23 156.2L96.28 233.6L96.34 164.5L96.40 233.6L96.45 154.0L96.51 159.2L96.57 233.6L96.62 150.1L96.68 233.6L96.74 147.9L96.79 233.6L96.85 152.4L96.91 152.8L96.96 233.6L97.02 158.0L97.08 233.6L97.13 151.9L97.19 233.6L97.25 157.0L97.30 159.5L97.36 233.6L97.42 233.6L97.47 158.8L97.53 158.0L97.59 233.6L97.64 149.4L97.70 233.6L97.76 158.1L97.81 233.6L97.87 156.8L97.93 233.6L97.98 161.1L98.04 159.6L98.10 233.6L98.15 160.5L98.21 233.6L98.27 147.5L98.32 233.6L98.38 157.4L98.44 233.6L98.49 164.0L98.55 233.6L98.61 157.2L98.66 155.0L98.72 233.6L98.78 156.5L98.83 233.6L98.89 153.1L98.95 150.9L99.00 233.6L99.06 153.9L99.12 233.6L99.17 163.9L99.23 233.6L99.29 154.6L99.34 233.6L99.40 158.2L99.46 233.6L99.51 155.6L99.57 158.0L99.63 233.6L99.68 160.0L99.74 233.6L99.80 159.3L99.85 233.6L99.91 159.2L99.97 233.6L100.02 149.7L100.08 233.6L100.14 157.0L100.19 163.0L100.25 233.6L100.31 159.5L100.36 233.6L100.42 159.6L100.48 233.6L100.53 159.6L100.59 166.9L100.65 233.6L100.70 151.1L100.76 233.6L100.82 156.5L100.87 233.6L100.93 160.4L100.99 233.6L101.04 158.0L101.10 233.6L101.16 158.0L101.21 233.6L101.27 156.5L101.33 158.1L101.38 233.6L101.44 158.9L101.50 233.6L101.55 156.2L101.61 233.6L101.67 155.0L101.72 150.4L101.78 233.6L101.84 163.4L101.89 233.6L101.95 157.2L102.01 233.6L102.06 158.9L102.12 233.6L102.18 153.1L102.23 161.9L102.29 158.8L102.35 233.6L102.40 161.4L102.46 153.6L102.52 158.0L102.57 159.1L102.63 145.8L102.69 233.6L102.74 161.0L102.80 169.1L102.86 162.2L102.91 168.8L102.97 158.9L103.03 233.6L103.08 158.0L103.14 159.7L103.20 160.8L103.25 159.5L103.31 157.3L103.37 233.6L103.42 158.9L103.48 163.2L103.54 154.5L103.59 156.4L103.65 154.7L103.71 233.6L103.76 157.1L103.82 161.1L103.88 161.3L103.93 161.1L103.99 158.7L104.05 233.6L104.10 158.6L104.16 166.3L104.22 151.2L104.27 160.0L104.33 162.2L104.39 233.6L104.44 156.0L104.50 168.7L104.56 156.6L104.61 156.6L104.67 233.6L104.73 158.1L104.78 158.3L104.84 158.8L104.90 154.8L104.95 162.4L105.01 233.6L105.07 161.0L105.12 160.6L105.18 159.0L105.24 150.8L105.29 161.4L105.35 233.6L105.41 162.7L105.46 158.4L105.52 160.1L105.58 153.2L105.63 158.6L105.69 233.6L105.75 154.3L105.80 152.7L105.86 163.4L105.92 158.2L105.97 157.7L106.03 233.6L106.09 156.3L106.14 156.6L106.20 155.7L106.26 158.7L106.31 233.6L106.37 166.1L106.43 155.3L106.48 154.9L106.54 160.5L106.60 155.0L106.65 155.9L106.71 157.9L106.77 157.4L106.82 157.5L106.88 152.0L106.94 155.3L106.99 160.0L107.05 157.9L107.11 148.0L107.16 161.7L107.22 161.1L107.28 156.2L107.33 158.7L107.39 162.8L107.45 157.7L107.50 162.2L107.56 154.2L107.62 151.9L107.67 233.6L107.73 150.8L107.79 153.0L107.84 159.1L107.90 169.2L107.96 153.2L108.01 157.2L108.07 157.8L108.13 154.7L108.18 233.6L108.24 162.4L108.30 158.8L108.35 159.1L108.41 159.7L108.47 151.6L108.52 158.0L108.58 154.5L108.64 160.9L108.69 155.3L108.75 233.6L108.81 154.6L108.86 161.0L108.92 157.4L108.98 153.8L109.03 161.4L109.09 169.2L109.15 149.9L109.20 162.1L109.26 233.6L109.32 159.8L109.37 155.2L109.43 164.7L109.49 158.6L109.54 159.9L109.60 159.6L109.66 154.2L109.71 136.6L109.77 233.6L109.83 160.5L109.88 160.6L109.94 153.3L110.00 156.0L110.05 149.5L110.11 159.0L110.17 155.8L110.22 157.6L110.28 147.9L110.34 154.0L110.39 148.0L110.45 157.6L110.51 152.9L110.56 161.0L110.62 160.6L110.68 154.5L110.73 156.8L110.79 156.9L110.85 162.8L110.90 167.5L110.96 161.1L111.02 145.7L111.07 155.6L111.13 159.3L111.19 153.2L111.24 157.2L111.30 157.7L111.36 155.2L111.41 158.3L111.47 158.1L111.53 159.3L111.58 157.1L111.64 164.9L111.70 155.6L111.75 151.9L111.81 156.3L111.87 160.0L111.92 158.0L111.98 158.5L112.04 152.2L112.09 153.2L112.15 161.8L112.21 149.1L112.26 153.3L112.32 160.9L112.38 163.3L112.43 153.7L112.49 168.8L112.55 156.5L112.60 147.2L112.66 163.1L112.72 167.9L112.77 163.3L112.83 159.1L112.89 154.8L112.94 166.8L113.00 162.7L113.06 164.9L113.11 157.0L113.17 156.8L113.23 156.4L113.28 153.0L113.34 146.2L113.40 160.6L113.45 165.5L113.51 160.2L113.57 161.3L113.62 161.8L113.68 158.7L113.74 159.3L113.79 161.0L113.85 145.8L113.91 160.2L113.96 156.7L114.02 158.8L114.08 156.2L114.13 159.8L114.19 161.4L114.25 150.9L114.30 233.6L114.36 158.3L114.42 161.2L114.47 153.7L114.53 154.7L114.59 154.3L114.64 153.2L114.70 158.0L114.76 153.0L114.81 156.4L114.87 159.0L114.93 161.3L114.98 233.6L115.04 157.1L115.10 161.9L115.15 163.5L115.21 160.1L115.27 154.8L115.32 141.0L115.38 156.2L115.44 163.6L115.49 158.4L115.55 161.2L115.61 157.0L115.66 153.6L115.72 155.2L115.78 162.4L115.83 152.1L115.89 160.3L115.95 154.4L116.00 158.4L116.06 156.8L116.12 160.3L116.17 149.1L116.23 158.6L116.29 159.0L116.34 159.7L116.40 152.1L116.46 158.1L116.51 155.1L116.57 158.3L116.63 146.3L116.68 158.7L116.74 149.4L116.80 155.9L116.85 158.9L116.91 158.9L116.97 153.7L117.02 141.0L117.08 162.3L117.14 161.7L117.19 152.3L117.25 154.8L117.31 155.5L117.36 159.4L117.42 159.2L117.48 163.4L117.53 156.0L117.59 162.7L117.65 163.7L117.70 158.8L117.76 155.1L117.82 159.0L117.87 156.6L117.93 154.1L117.99 155.4L118.04 155.5L118.10 158.3L118.16 161.8L118.21 156.9L118.27 159.9L118.33 160.6L118.38 157.8L118.44 157.0L118.50 154.1L118.55 157.1L118.61 152.8L118.67 158.0L118.72 159.1L118.78 160.2L118.84 156.0L118.89 162.3L118.95 156.5L119.01 147.4L119.06 156.1L119.12 160.5L119.18 155.7L119.23 155.8L119.29 147.6L119.35 152.1L119.40 158.4L119.46 155.4L119.52 148.7L119.57 164.0L119.63 153.6L119.69 154.4L119.74 156.9L119.80 159.0L119.86 158.2L119.91 158.6L119.97 155.5L120.03 161.3L120.08 162.0L120.14 155.2L120.20 153.3L120.25 156.4L120.31 159.6L120.37 159.7L120.42 157.9L120.48 155.2L120.54 157.0L120.59 158.7L120.65 163.0L120.71 158.8L120.76 159.5L120.82 153.1L120.88 160.4L120.93 153.3L120.99 151.1L121.05 162.4L121.10 155.3L121.16 161.3L121.22 153.2L121.27 159.6L121.33 159.1L121.39 154.8L121.44 159.8L121.50 156.6L121.56 160.9L121.61 158.0L121.67 156.4L121.73 167.9L121.78 158.9L121.84 159.0L121.90 161.9L121.95 155.5L122.01 148.2L122.07 158.4L122.12 155.3L122.18 158.4L122.24 161.8L122.29 156.0L122.35 163.5L122.41 158.3L122.46 150.9L122.52 140.0L122.58 155.2L122.63 153.5L122.69 149.8L122.75 149.0L122.80 157.2L122.86 158.4L122.92 152.8L122.97 147.4L123.03 161.4L123.09 147.8L123.14 156.1L123.20 156.3L123.26 159.8L123.31 153.3L123.37 161.5L123.43 157.1L123.48 158.7L123.54 145.8L123.60 160.4L123.65 233.6L123.71 148.1L123.77 155.6L123.82 160.0L123.88 157.3L123.94 158.5L123.99 168.9L124.05 157.2L124.11 156.6L124.16 145.6L124.22 163.3L124.28 151.9L124.33 163.5L124.39 160.7L124.45 156.8L124.50 136.7L124.56 155.6L124.62 166.5L124.67 152.3L124.73 159.2L124.79 150.0L124.84 155.7L124.90 167.7L124.96 157.8L125.01 158.1L125.07 155.2L125.13 153.2L125.18 157.7L125.24 155.9L125.30 155.4L125.35 162.8L125.41 156.9L125.47 154.3L125.52 161.5L125.58 154.2L125.64 158.6L125.69 159.5L125.75 153.7L125.81 153.7L125.86 163.9L125.92 158.7L125.98 160.7L126.03 156.2L126.09 157.8L126.15 154.5L126.20 155.9L126.26 149.7L126.32 160.1L126.37 154.0L126.43 156.0L126.49 147.8L126.54 152.5L126.60 159.3L126.66 151.8L126.71 147.1L126.77 158.4L126.83 155.6L126.88 165.9L126.94 156.0L127.00 161.9L127.05 146.4L127.11 157.1L127.17 162.3L127.22 159.3L127.28 159.3L127.34 160.8L127.39 146.9L127.45 155.8L127.51 158.2L127.56 159.5L127.62 157.6L127.68 159.3L127.73 157.5L127.79 159.5L127.85 146.4L127.90 158.7L127.96 155.6L128.02 160.1L128.07 152.9L128.13 155.4L128.19 154.7L128.24 157.0L128.30 158.4L128.36 163.9L128.41 156.1L128.47 160.8L128.53 154.4L128.58 155.5L128.64 159.4L128.70 160.5L128.75 157.9L128.81 146.8L128.87 150.2L128.92 158.6L128.98 152.8L129.04 159.0L129.09 154.8L129.15 163.3L129.21 153.1L129.26 156.4L129.32 153.6L129.38 155.5L129.43 156.8L129.49 152.5L129.55 160.1L129.60 157.4L129.66 158.0L129.72 154.7L129.77 162.7L129.83 145.7L129.89 154.4L129.94 157.9L130.00 156.7L130.06 158.3L130.11 157.0L130.17 159.0L130.23 157.7L130.28 157.4L130.34 162.5L130.40 159.8L130.45 152.4L130.51 160.8L130.57 161.7L130.62 153.9L130.68 149.6L130.74 155.6L130.79 155.3L130.85 154.9L130.91 157.3L130.96 154.2L131.02 157.8L131.08 158.3L131.13 156.7L131.19 157.6L131.25 156.1L131.30 147.5L131.36 159.2L131.42 155.2L131.47 162.7L131.53 161.6L131.59 147.4L131.64 163.2L131.70 159.2L131.76 162.5L131.81 146.3L131.87 155.1L131.93 160.4L131.98 158.1L132.04 167.7L132.10 156.6L132.15 157.1L132.21 157.5L132.27 157.3L132.32 155.7L132.38 150.5L132.44 154.1L132.49 155.3L132.55 160.2L132.61 158.0L132.66 157.6L132.72 233.6L132.78 157.3L132.83 149.6L132.89 154.2L132.95 155.9L133.00 144.6L133.06 233.6L133.12 157.5L133.17 157.3L133.23 160.6L133.29 167.4L133.34 158.5L133.40 233.6L133.46 159.4L133.51 157.3L133.57 160.7L133.63 155.2L133.68 148.5L133.74 233.6L133.80 155.3L133.85 155.0L133.91 160.1L133.97 155.1L134.02 233.6L134.08 151.5L134.14 166.2L134.19 167.2L134.25 159.3L134.31 161.9L134.36 233.6L134.42 159.8L134.48 147.9L134.53 156.4L134.59 155.2L134.65 159.5L134.70 233.6L134.76 160.9L134.82 162.4L134.87 154.0L134.93 159.6L134.99 153.4L135.04 233.6L135.10 155.3L135.16 158.5L135.21 160.8L135.27 159.4L135.33 233.6L135.38 159.2L135.44 156.0L135.50 160.3L135.55 148.4L135.61 155.7L135.67 233.6L135.72 163.0L135.78 157.4L135.84 160.9L135.89 160.1L135.95 151.3L136.01 233.6L136.06 165.3L136.12 161.2L136.18 154.3L136.23 162.2L136.29 151.7L136.35 233.6L136.40 161.1L136.46 153.7L136.52 153.7L136.57 153.0L136.63 148.5L136.69 158.7L136.74 156.7L136.80 154.7L136.86 154.6L136.91 152.4L136.97 160.6L137.03 157.6L137.08 158.0L137.14 160.7L137.20 163.6L137.25 159.0L137.31 160.0L137.37 157.7L137.42 162.6L137.48 154.6L137.54 151.9L137.59 152.6L137.65 158.0L137.71 160.4L137.76 160.5L137.82 161.3L137.88 233.6L137.93 147.3L137.99 156.0L138.05 152.6L138.10 156.9L138.16 155.8L138.21 159.3L138.27 153.2L138.33 158.2L138.38 155.6L138.44 167.8L138.50 148.7L138.55 153.1L138.61 156.6L138.67 160.7L138.72 154.3L138.78 162.7L138.84 155.0L138.89 156.5L138.95 162.5L139.01 156.4L139.06 160.5L139.12 148.2L139.18 161.6L139.23 157.6L139.29 158.7L139.35 157.6L139.40 151.7L139.46 147.4L139.52 159.0L139.57 159.4L139.63 233.6L139.69 149.2L139.74 161.4L139.80 159.6L139.86 156.1L139.91 158.6L139.97 155.7L140.03 158.2L140.08 154.6L140.14 155.1L140.20 146.2L140.25 156.8L140.31 156.1L140.37 158.3L140.42 156.0L140.48 147.7L140.54 158.0L140.59 156.9L140.65 156.0L140.71 156.3L140.76 162.4L140.82 159.3L140.88 155.1L140.93 159.8L140.99 153.0L141.05 158.4L141.10 233.6L141.16 158.4L141.22 169.5L141.27 159.4L141.33 157.8L141.39 156.0L141.44 233.6L141.50 157.5L141.56 156.5L141.61 158.8L141.67 157.4L141.73 146.3L141.78 233.6L141.84 156.3L141.90 156.6L141.95 159.4L142.01 158.0L142.07 159.6L142.12 233.6L142.18 159.0L142.24 156.5L142.29 157.1L142.35 162.2L142.41 157.9L142.46 233.6L142.52 156.0L142.58 158.8L142.63 157.2L142.69 157.0L142.75 157.6L142.80 233.6L142.86 155.3L142.92 124.5L142.97 163.8L143.03 157.2L143.09 159.6L143.14 163.3L143.20 233.6L143.26 156.0L143.31 158.1L143.37 159.1L143.43 156.3L143.48 233.6L143.54 160.2L143.60 156.4L143.65 159.2L143.71 165.0L143.77 163.1L143.82 233.6L143.88 157.9L143.94 160.3L143.99 155.5L144.05 158.9L144.11 159.1L144.16 157.2L144.22 148.8L144.28 154.2L144.33 157.8L144.39 155.3L144.45 159.3L144.50 161.3L144.56 162.5L144.62 158.5L144.67 154.5L144.73 164.3L144.79 163.2L144.84 154.8L144.90 156.7L144.96 162.1L145.01 155.8L145.07 161.9L145.13 160.6L145.18 169.5L145.24 233.6L145.30 146.6L145.35 163.6L145.41 167.6L145.47 158.8L145.52 155.6L145.58 156.7L145.64 157.9L145.69 157.8L145.75 155.0L145.81 156.9L145.86 158.0L145.92 158.2L145.98 144.6L146.03 163.5L146.09 156.8L146.15 161.7L146.20 152.8L146.26 162.6L146.32 151.3L146.37 161.4L146.43 153.5L146.49 152.0L146.54 156.1L146.60 161.7L146.66 233.6L146.71 155.9L146.77 158.0L146.83 158.8L146.88 155.5L146.94 155.4L147.00 161.2L147.05 154.5L147.11 155.1L147.17 161.0L147.22 159.8L147.28 157.3L147.34 160.1L147.39 155.3L147.45 158.2L147.51 161.9L147.56 233.6L147.62 155.7L147.68 160.3L147.73 163.5L147.79 158.1L147.85 161.2L147.90 159.3L147.96 164.3L148.02 157.8L148.07 154.4L148.13 160.2L148.19 163.1L148.24 158.7L148.30 160.9L148.36 157.3L148.41 168.4L148.47 160.6L148.53 233.6L148.58 165.4L148.64 157.8L148.70 153.0L148.75 149.4L148.81 154.6L148.87 147.5L148.92 158.6L148.98 165.4L149.04 147.0L149.09 158.0L149.15 163.7L149.21 162.9L149.26 158.2L149.32 158.5L149.38 152.4L149.43 233.6L149.49 160.3L149.55 158.3L149.60 153.5L149.66 148.2L149.72 159.4L149.77 164.4L149.83 156.9L149.89 159.7L149.94 158.4L150.00 161.4L150.06 154.6L150.11 155.3L150.17 158.3L150.23 159.0L150.28 152.9L150.34 162.9L150.40 233.6L150.45 161.1L150.51 161.5L150.57 150.9L150.62 158.1L150.68 160.8L150.74 153.8L150.79 152.4L150.85 151.6L150.91 156.8L150.96 163.7L151.02 155.3L151.08 163.9L151.13 156.0L151.19 159.2L151.25 156.3L151.30 233.6L151.36 160.3L151.42 160.1L151.47 152.4L151.53 162.2L151.59 151.2L151.64 155.3L151.70 153.2L151.76 159.9L151.81 157.4L151.87 155.2L151.93 161.8L151.98 164.7L152.04 162.5L152.10 163.9L152.15 158.2L152.21 156.4L152.27 156.7L152.32 233.6L152.38 157.7L152.44 155.8L152.49 233.6L152.55 159.3L152.61 233.6L152.66 160.1L152.72 233.6L152.78 158.4L152.83 168.5L152.89 233.6L152.95 155.9L153.00 233.6L153.06 160.6L153.12 233.6L153.17 155.9L153.23 233.6L153.29 161.0L153.34 163.3L153.40 233.6L153.46 147.7L153.51 233.6L153.57 162.0L153.63 233.6L153.68 161.0L153.74 233.6L153.80 156.9L153.85 233.6L153.91 158.9L153.97 233.6L154.02 157.6L154.08 157.2L154.14 233.6L154.19 162.0L154.25 233.6L154.31 155.0L154.36 159.2L154.42 233.6L154.48 233.6L154.53 157.0L154.59 233.6L154.65 161.1L154.70 156.7L154.76 233.6L154.82 161.4L154.87 233.6L154.93 154.8L154.99 158.1L155.04 233.6L155.10 233.6L155.16 160.9L155.21 151.6L155.27 233.6L155.33 157.0L155.38 233.6L155.44 159.9L155.50 233.6L155.55 148.4L155.61 233.6L155.67 160.8L155.72 233.6L155.78 161.6L155.84 162.4L155.89 233.6L155.95 161.8L156.01 233.6L156.06 159.5L156.12 157.5L156.18 233.6L156.23 163.3L156.29 233.6L156.35 164.7L156.40 233.6L156.46 157.9L156.52 233.6L156.57 156.2L156.63 233.6L156.69 163.1L156.74 155.0L156.80 233.6L156.86 162.7L156.91 233.6L156.97 163.7L157.03 233.6L157.08 156.1L157.14 233.6L157.20 163.3L157.25 159.7L157.31 233.6L157.37 160.2L157.42 233.6L157.48 162.5L157.54 233.6L157.59 164.8L157.65 233.6L157.71 163.1L157.76 233.6L157.82 165.9L157.88 233.6L157.93 161.6L157.99 161.1L158.05 233.6L158.10 159.9L158.16 233.6L158.22 151.4L158.27 233.6L158.33 161.4L158.39 233.6L158.44 161.2L158.50 163.3L158.56 233.6L158.61 151.1L158.67 233.6L158.73 156.7L158.78 233.6L158.84 159.4L158.90 233.6L158.95 159.0L159.01 156.3L159.07 233.6L159.12 156.7L159.18 233.6L159.24 166.6L159.29 233.6L159.35 158.2L159.41 233.6L159.46 157.4L159.52 233.6L159.58 166.7L159.63 158.9L159.69 233.6L159.75 159.1L159.80 233.6L159.86 162.8L159.92 233.6L159.97 161.9L160.03 233.6L160.09 160.4L160.14 156.3L160.20 233.6L160.26 156.8L160.31 233.6L160.37 161.2L160.43 233.6L160.48 159.1L160.54 233.6L160.60 162.6L160.65 233.6L160.71 164.7L160.77 158.1L160.82 233.6L160.88 159.3L160.94 233.6L160.99 161.8L161.05 233.6L161.11 157.1L161.16 233.6L161.22 164.5L161.28 158.3L161.33 233.6L161.39 164.0L161.45 233.6L161.50 160.3L161.56 233.6L161.62 165.1L161.67 161.0L161.73 233.6L161.79 162.9L161.84 233.6L161.90 161.8L161.96 233.6L162.01 162.9L162.07 233.6L162.13 162.0L162.18 233.6L162.24 159.8L162.30 233.6L162.35 156.7L162.41 161.3L162.47 233.6L162.52 158.8L162.58 233.6L162.64 159.9L162.69 233.6L162.75 171.8L162.81 233.6L162.86 160.1L162.92 156.0L162.98 233.6L163.03 159.9L163.09 233.6L163.15 170.8L163.20 233.6L163.26 163.0L163.32 233.6L163.37 159.6L163.43 158.1L163.49 233.6L163.54 160.0L163.60 233.6L163.66 155.7L163.71 233.6L163.77 159.2L163.83 233.6L163.88 163.1L163.94 233.6L164.00 166.3L164.05 169.1L164.11 158.2L164.17 162.0L164.22 162.1L164.28 152.8L164.34 156.3L164.39 161.2L164.45 163.1L164.51 159.7L164.56 159.3L164.62 152.7L164.68 151.3L164.73 164.7L164.79 168.4L164.85 156.3L164.90 164.0L164.96 161.2L165.02 164.7L165.07 165.4L165.13 154.5L165.19 159.7L165.24 163.6L165.30 149.8L165.36 162.7L165.41 159.3L165.47 165.8L165.53 159.5L165.58 164.4L165.64 161.2L165.70 160.7L165.75 171.9L165.81 152.6L165.87 157.2L165.92 165.7L165.98 153.7L166.04 159.0L166.09 150.1L166.15 150.9L166.21 233.6L166.26 159.5L166.32 158.5L166.38 164.6L166.43 160.5L166.49 164.9L166.55 157.7L166.60 160.9L166.66 157.5L166.72 162.4L166.77 163.1L166.83 149.3L166.89 160.6L166.94 151.8L167.00 154.5L167.06 163.2L167.11 164.7L167.17 233.6L167.23 161.2L167.28 162.9L167.34 163.8L167.40 160.3L167.45 161.6L167.51 160.5L167.57 164.5L167.62 162.1L167.68 162.2L167.74 153.2L167.79 160.8L167.85 157.4L167.91 156.7L167.96 159.6L168.02 156.9L168.08 169.8L168.13 233.6L168.19 159.2L168.25 163.0L168.30 148.9L168.36 162.0L168.42 150.3L168.47 157.7L168.53 158.9L168.59 163.3L168.64 160.2L168.70 165.0L168.76 163.1L168.81 150.7L168.87 164.7L168.93 169.5L168.98 166.9L169.04 168.7L169.10 233.6L169.15 163.3L169.21 161.0L169.27 153.5L169.32 163.8L169.38 162.7L169.44 155.5L169.49 162.3L169.55 162.9L169.61 165.5L169.66 151.3L169.72 159.0L169.78 153.9L169.83 160.4L169.89 159.8L169.95 163.5L170.00 159.1L170.06 156.8L170.12 163.4L170.17 159.0L170.23 159.3L170.29 163.3L170.34 162.5L170.40 158.5L170.46 160.2L170.51 166.8L170.57 158.9L170.63 163.8L170.68 167.4L170.74 161.4L170.80 165.8L170.85 233.6L170.91 168.2L170.97 164.4L171.02 162.7L171.08 156.9L171.14 162.8L171.19 161.7L171.25 162.1L171.31 164.3L171.36 149.1L171.42 163.5L171.48 160.4L171.53 161.0L171.59 154.5L171.65 165.0L171.70 160.7L171.76 157.7L171.82 157.6L171.87 158.7L171.93 158.3L171.99 159.1L172.04 160.2L172.10 162.0L172.16 155.5L172.21 152.5L172.27 150.8L172.33 164.1L172.38 164.3L172.44 166.4L172.50 162.0L172.55 150.5L172.61 158.2L172.67 233.6L172.72 162.8L172.78 159.5L172.84 157.2L172.89 162.9L172.95 158.1L173.01 158.3L173.06 161.3L173.12 161.7L173.18 156.8L173.23 163.7L173.29 160.6L173.35 159.2L173.40 158.9L173.46 164.2L173.52 156.7L173.57 164.0L173.63 161.0L173.69 162.7L173.74 171.0L173.80 163.7L173.86 160.4L173.91 171.5L173.97 160.1L174.03 144.6L174.08 165.3L174.14 151.4L174.20 163.4L174.25 162.7L174.31 161.1L174.37 158.9L174.42 233.6L174.48 157.8L174.54 162.0L174.59 160.6L174.65 160.1L174.71 159.0L174.76 162.5L174.82 161.6L174.88 151.6L174.93 156.0L174.99 149.6L175.05 161.6L175.10 162.0L175.16 149.5L175.22 159.3L175.27 166.8L175.33 165.9L175.39 160.7L175.44 163.7L175.50 163.5L175.56 162.3L175.61 161.5L175.67 164.5L175.73 159.0L175.78 233.6L175.84 167.6L175.90 156.2L175.95 162.6L176.01 233.6L176.07 164.4L176.12 164.8L176.18 233.6L176.24 159.9L176.29 163.8L176.35 161.0L176.41 233.6L176.46 160.4L176.52 160.6L176.58 163.1L176.63 233.6L176.69 164.2L176.75 162.0L176.80 172.5L176.86 233.6L176.92 160.0L176.97 163.6L177.03 233.6L177.09 157.4L177.14 159.3L177.20 160.4L177.26 233.6L177.31 163.5L177.37 158.3L177.43 161.7L177.48 233.6L177.54 172.0L177.60 152.2L177.65 233.6L177.71 155.4L177.77 158.5L177.82 160.1L177.88 233.6L177.94 162.2L177.99 165.5L178.05 233.6L178.11 164.7L178.16 161.7L178.22 157.2L178.28 162.7L178.33 233.6L178.39 161.8L178.45 159.3L178.50 233.6L178.56 164.3L178.62 155.8L178.67 233.6L178.73 165.2L178.79 156.4L178.84 168.1L178.90 166.5L178.96 163.4L179.01 157.2L179.07 156.3L179.13 164.4L179.18 159.3L179.24 161.2L179.30 164.3L179.35 150.4L179.41 165.0L179.47 158.3L179.52 163.2L179.58 166.0L179.64 153.0L179.69 167.3L179.75 162.8L179.81 166.5L179.86 155.8L179.92 166.0L179.98 160.4L180.03 160.0L180.09 164.9L180.15 158.0L180.20 165.7L180.26 159.7L180.32 160.8L180.37 158.6L180.43 160.8L180.49 166.0L180.54 157.0L180.60 164.6L180.66 161.7L180.71 167.2L180.77 164.0L180.83 161.1L180.88 153.4L180.94 157.6L181.00 162.1L181.05 163.2L181.11 158.4L181.17 163.1L181.22 166.2L181.28 160.5L181.34 158.4L181.39 116.6L181.45 173.0L181.51 151.1L181.56 159.8L181.62 161.7L181.68 164.0L181.73 151.2L181.79 163.7L181.85 165.0L181.90 158.5L181.96 163.1L182.02 164.7L182.07 165.5L182.13 159.1L182.19 161.2L182.24 156.4L182.30 155.8L182.36 157.5L182.41 164.6L182.47 163.3L182.53 159.5L182.58 164.3L182.64 168.8L182.70 163.8L182.75 161.4L182.81 157.8L182.87 158.0L182.92 166.6L182.98 161.9L183.04 160.1L183.09 165.4L183.15 233.6L183.21 157.6L183.26 165.5L183.32 157.3L183.38 166.2L183.43 161.2L183.49 165.0L183.55 161.7L183.60 164.7L183.66 166.0L183.72 160.4L183.77 162.5L183.83 160.9L183.89 164.5L183.94 161.1L184.00 154.4L184.06 233.6L184.11 160.3L184.17 164.2L184.23 151.3L184.28 165.6L184.34 161.4L184.40 163.6L184.45 160.4L184.51 164.4L184.57 162.2L184.62 163.6L184.68 164.1L184.74 164.5L184.79 169.6L184.85 163.4L184.91 233.6L184.96 159.3L185.02 162.5L185.08 164.5L185.13 158.5L185.19 158.0L185.25 166.7L185.30 162.5L185.36 158.6L185.42 168.7L185.47 162.1L185.53 163.4L185.59 161.9L185.64 168.1L185.70 165.4L185.76 233.6L185.81 166.8L185.87 167.5L185.93 152.9L185.98 159.3L186.04 165.3L186.10 156.9L186.15 173.7L186.21 160.4L186.27 153.0L186.32 159.8L186.38 160.8L186.44 156.8L186.49 167.0L186.55 162.0L186.61 159.5L186.66 158.1L186.72 161.8L186.78 162.5L186.83 162.4L186.89 161.8L186.95 159.1L187.00 167.3L187.06 168.2L187.12 163.7L187.17 153.0L187.23 164.1L187.29 160.0L187.34 164.0L187.40 167.4L187.46 165.0L187.51 162.2L187.57 233.6L187.63 169.1L187.68 155.6L187.74 158.5L187.80 154.5L187.85 164.4L187.91 172.8L187.97 161.6L188.02 171.8L188.08 165.0L188.14 160.9L188.19 163.1L188.25 167.0L188.31 160.9L188.36 165.1L188.42 161.1L188.48 163.6L188.53 161.7L188.59 164.8L188.65 163.0L188.70 167.7L188.76 164.3L188.82 166.0L188.87 164.2L188.93 153.5L188.99 161.6L189.04 167.5L189.10 150.6L189.16 165.8L189.21 164.8L189.27 157.7L189.33 233.6L189.38 162.5L189.44 152.9L189.50 163.5L189.55 166.4L189.61 158.6L189.67 165.2L189.72 152.8L189.78 173.8L189.84 161.1L189.89 162.2L189.95 162.3L190.01 161.2L190.06 167.6L190.12 150.7L190.18 166.4L190.23 157.2L190.29 167.4L190.35 165.0L190.40 162.5L190.46 163.5L190.52 164.7L190.57 163.9L190.63 158.0L190.69 162.0L190.74 164.7L190.80 164.1L190.86 163.0L190.91 156.2L190.97 152.3L191.03 162.9L191.08 233.6L191.14 159.0L191.20 157.0L191.25 162.9L191.31 162.5L191.37 151.8L191.42 167.5L191.48 157.8L191.54 165.2L191.59 163.1L191.65 164.7L191.71 162.2L191.76 156.7L191.82 161.0L191.88 164.8L191.93 162.8L191.99 162.3L192.05 161.6L192.10 159.9L192.16 162.3L192.22 144.6L192.27 164.9L192.33 156.9L192.39 163.4L192.44 163.1L192.50 165.0L192.56 154.3L192.61 171.8L192.67 166.4L192.73 164.8L192.78 163.7L192.84 233.6L192.90 161.5L192.95 163.3L193.01 161.0L193.07 161.4L193.12 162.6L193.18 160.8L193.24 164.6L193.29 158.9L193.35 161.4L193.41 155.7L193.46 167.1L193.52 164.3L193.58 164.6L193.63 154.5L193.69 152.1L193.75 163.1L193.80 165.3L193.86 163.8L193.92 165.7L193.97 163.8L194.03 168.6L194.09 162.0L194.14 163.4L194.20 166.1L194.26 162.7L194.31 165.4L194.37 163.9L194.43 158.6L194.48 162.1L194.54 161.7L194.60 163.8L194.65 167.5L194.71 158.9L194.77 159.6L194.82 162.2L194.88 163.8L194.94 164.2L194.99 156.9L195.05 157.9L195.11 163.1L195.16 156.2L195.22 158.6L195.28 159.9L195.33 164.9L195.39 157.6L195.45 166.0L195.50 154.2L195.56 151.3L195.62 159.4L195.67 168.6L195.73 166.7L195.79 162.7L195.84 162.6L195.90 164.6L195.96 158.3L196.01 158.0L196.07 159.1L196.13 165.2L196.18 159.5L196.24 233.6L196.30 163.6L196.35 164.0L196.41 160.5L196.47 161.0L196.52 162.0L196.58 167.0L196.64 160.3L196.69 165.9L196.75 166.5L196.81 155.6L196.86 162.5L196.92 161.3L196.98 160.9L197.03 166.2L197.09 173.0L197.15 233.6L197.20 166.3L197.26 162.3L197.32 165.2L197.37 165.3L197.43 164.7L197.49 163.3L197.54 158.9L197.60 159.1L197.66 162.9L197.71 151.5L197.77 154.8L197.83 166.0L197.88 164.8L197.94 158.1L198.00 233.6L198.05 151.9L198.11 159.1L198.17 161.7L198.22 158.8L198.28 157.0L198.34 161.1L198.39 168.4L198.45 162.7L198.51 163.8L198.56 163.3L198.62 166.8L198.68 164.3L198.73 163.7L198.79 165.8L198.85 160.6L198.90 233.6L198.96 163.3L199.02 164.0L199.07 161.7L199.13 163.2L199.19 162.4L199.24 158.7L199.30 166.1L199.36 158.0L199.41 160.4L199.47 159.2L199.53 162.4L199.58 151.1L199.64 162.8L199.70 163.2L199.75 161.8L199.81 165.1L199.87 233.6L199.92 159.8L199.98 158.9L200.04 162.4L200.09 233.6L200.15 165.2L200.21 161.5L200.26 233.6L200.32 160.4L200.38 163.5L200.43 159.6L200.49 233.6L200.55 158.3L200.60 157.0L200.66 233.6L200.72 161.2L200.77 163.1L200.83 157.7L200.89 233.6L200.94 159.1L201.00 162.1L201.06 233.6L201.11 156.4L201.17 163.2L201.23 162.4L201.28 233.6L201.34 164.6L201.40 164.5L201.45 233.6L201.51 162.9L201.57 160.2L201.62 158.0L201.68 233.6L201.74 163.5L201.79 160.4L201.85 161.3L201.91 233.6L201.96 160.0L202.02 170.4L202.08 165.9L202.13 159.0L202.19 162.2L202.25 159.1L202.30 161.6L202.36 158.7L202.42 159.1L202.47 154.1L202.53 161.7L202.59 233.6L202.64 154.9L202.70 162.3L202.76 162.7L202.81 167.6L202.87 159.8L202.93 233.6L202.98 153.5L203.04 157.5L203.10 164.4L203.15 162.1L203.21 166.8L203.27 233.6L203.32 162.4L203.38 153.2L203.44 161.5L203.49 159.6L203.55 164.5L203.61 233.6L203.66 158.2L203.72 162.1L203.78 154.0L203.83 159.2L203.89 167.9L203.95 233.6L204.00 161.4L204.06 158.3L204.12 164.8L204.17 161.4L204.23 164.2L204.29 233.6L204.34 166.9L204.40 164.9L204.46 168.6L204.51 166.1L204.57 156.6L204.63 159.0L204.68 233.6L204.74 168.8L204.80 162.0L204.85 160.8L204.91 165.3L204.97 233.6L205.02 161.4L205.08 162.8L205.14 158.0L205.19 163.8L205.25 159.5L205.31 233.6L205.36 162.3L205.42 164.2L205.48 158.7L205.53 165.2L205.59 163.3L205.65 160.7L205.70 161.8L205.76 161.0L205.82 159.3L205.87 160.3L205.93 161.7L205.99 164.2L206.04 160.3L206.10 166.4L206.16 165.0L206.21 162.8L206.27 163.3L206.33 150.7L206.38 159.2L206.44 162.7L206.50 165.3L206.55 233.6L206.61 161.5L206.67 163.9L206.72 163.4L206.78 162.2L206.84 172.6L206.89 161.4L206.95 164.5L207.01 159.0L207.06 164.9L207.12 166.2L207.18 153.9L207.23 163.6L207.29 164.9L207.35 162.0L207.40 166.3L207.46 154.4L207.52 163.9L207.57 165.2L207.63 156.0L207.69 162.8L207.74 168.2L207.80 159.4L207.86 162.5L207.91 165.8L207.97 162.4L208.03 167.7L208.08 160.2L208.14 159.5L208.20 162.1L208.25 160.1L208.31 163.3L208.37 164.6L208.42 157.0L208.48 166.3L208.54 160.1L208.59 162.6L208.65 164.9L208.71 156.3L208.76 157.6L208.82 153.8L208.88 233.6L208.93 157.9L208.99 162.0L209.04 160.5L209.10 163.0L209.16 170.9L209.21 163.0L209.27 158.9L209.33 162.0L209.38 157.9L209.44 164.0L209.50 163.3L209.55 160.3L209.61 163.0L209.67 162.1L209.72 162.6L209.78 161.8L209.84 162.7L209.89 163.4L209.95 166.2L210.01 145.5L210.06 154.4L210.12 154.8L210.18 161.8L210.23 167.4L210.29 165.1L210.35 166.2L210.40 160.0L210.46 160.4L210.52 233.6L210.57 162.3L210.63 161.0L210.69 157.3L210.74 164.1L210.80 166.5L210.86 166.4L210.91 163.4L210.97 165.1L211.03 166.9L211.08 161.2L211.14 161.0L211.20 163.9L211.25 166.0L211.31 162.7L211.37 159.3L211.42 233.6L211.48 171.5L211.54 161.9L211.59 172.5L211.65 159.4L211.71 165.3L211.76 153.2L211.82 159.5L211.88 165.8L211.93 161.0L211.99 150.3L212.05 167.9L212.10 150.4L212.16 166.1L212.22 159.4L212.27 161.7L212.33 171.3L212.39 159.3L212.44 159.1L212.50 170.1L212.56 158.7L212.61 160.4L212.67 151.6L212.73 163.5L212.78 171.6L212.84 163.7L212.90 160.5L212.95 152.9L213.01 160.6L213.07 166.5L213.12 162.7L213.18 157.9L213.24 163.4L213.29 161.2L213.35 162.3L213.41 162.3L213.46 163.9L213.52 165.1L213.58 164.2L213.63 158.5L213.69 233.6L213.75 162.5L213.80 152.2L213.86 165.1L213.92 233.6L213.97 167.4L214.03 165.5L214.09 155.9L214.14 233.6L214.20 159.7L214.26 150.3L214.31 233.6L214.37 163.9L214.43 165.6L214.48 150.1L214.54 233.6L214.60 165.7L214.65 158.1L214.71 233.6L214.77 166.7L214.82 155.8L214.88 165.4L214.94 233.6L214.99 160.4L215.05 163.1L215.11 233.6L215.16 160.6L215.22 162.8L215.28 164.5L215.33 233.6L215.39 160.0L215.45 163.3L215.50 233.6L215.56 165.7L215.62 167.5L215.67 164.1L215.73 233.6L215.79 159.6L215.84 164.0L215.90 233.6L215.96 173.1L216.01 169.0L216.07 157.0L216.13 233.6L216.18 162.3L216.24 162.0L216.30 233.6L216.35 153.1L216.41 161.9L216.47 157.9L216.52 233.6L216.58 165.8L216.64 163.1L216.69 233.6L216.75 164.4L216.81 162.2L216.86 160.7L216.92 233.6L216.98 164.7L217.03 160.8L217.09 165.1L217.15 233.6L217.20 170.1L217.26 163.4L217.32 233.6L217.37 172.4L217.43 156.6L217.49 233.6L217.54 158.1L217.60 158.3L217.66 161.0L217.71 233.6L217.77 160.3L217.83 171.5L217.88 157.0L217.94 233.6L218.00 157.7L218.05 171.7L218.11 159.6L218.17 161.2L218.22 161.5L218.28 166.7L218.34 160.9L218.39 162.6L218.45 163.6L218.51 233.6L218.56 163.7L218.62 161.4L218.68 159.7L218.73 163.8L218.79 162.6L218.85 165.8L218.90 164.7L218.96 156.9L219.02 160.0L219.07 162.6L219.13 170.5L219.19 159.1L219.24 160.2L219.30 163.9L219.36 163.0L219.41 159.3L219.47 233.6L219.53 167.4L219.58 155.2L219.64 158.8L219.70 164.5L219.75 159.0L219.81 163.5L219.87 156.6L219.92 157.6L219.98 163.2L220.04 161.3L220.09 159.9L220.15 163.5L220.21 161.8L220.26 161.0L220.32 163.4L220.38 161.8L220.43 233.6L220.49 159.4L220.55 162.2L220.60 158.5L220.66 160.4L220.72 162.6L220.77 153.9L220.83 160.4L220.89 167.5L220.94 150.7L221.00 157.3L221.06 162.2L221.11 159.0L221.17 161.1L221.23 158.5L221.28 155.5L221.34 233.6L221.40 166.4L221.45 159.8L221.51 159.4L221.57 167.4L221.62 153.6L221.68 159.2L221.74 164.8L221.79 158.7L221.85 150.6L221.91 165.5L221.96 165.4L222.02 152.7L222.08 165.1L222.13 159.4L222.19 163.4L222.25 163.8L222.30 233.6L222.36 164.5L222.42 162.0L222.47 163.3L222.53 164.6L222.59 163.7L222.64 162.6L222.70 159.1L222.76 160.0L222.81 173.2L222.87 161.9L222.93 163.2L222.98 161.6L223.04 170.4L223.10 159.8L223.15 159.7L223.21 157.6L223.27 156.4L223.32 158.9L223.38 161.0L223.44 156.8L223.49 161.7L223.55 166.3L223.61 166.0L223.66 162.6L223.72 161.2L223.78 156.0L223.83 164.9L223.89 160.8L223.95 166.3L224.00 158.8L224.06 165.7L224.12 159.1L224.17 161.3L224.23 164.3L224.29 165.9L224.34 165.6L224.40 159.4L224.46 159.2L224.51 162.5L224.57 155.0L224.63 159.9L224.68 160.9L224.74 159.7L224.80 165.1L224.85 233.6L224.91 154.1L224.97 161.9L225.02 160.1L225.08 158.0L225.14 161.1L225.19 161.3L225.25 161.8L225.31 157.6L225.36 158.9L225.42 161.6L225.48 165.4L225.53 233.6L225.59 164.2L225.65 163.5L225.70 151.4L225.76 159.9L225.82 159.6L225.87 158.3L225.93 156.2L225.99 141.5L226.04 152.9L226.10 161.8L226.16 154.9L226.21 165.5L226.27 167.0L226.33 159.2L226.38 156.6L226.44 156.5L226.50 163.4L226.55 165.3L226.61 165.2L226.67 166.3L226.72 161.3L226.78 154.8L226.84 162.4L226.89 159.0L226.95 160.7L227.01 157.6L227.06 157.7L227.12 156.1L227.18 171.3L227.23 159.0L227.29 162.9L227.35 159.2L227.40 155.9L227.46 160.0L227.52 163.5L227.57 158.3L227.63 152.2L227.69 158.1L227.74 160.2L227.80 157.1L227.86 154.1L227.91 155.0L227.97 145.8L228.03 160.0L228.08 144.5L228.14 149.9L228.20 162.3L228.25 159.0L228.31 163.4L228.37 153.1L228.42 154.2L228.48 143.5L228.54 154.4L228.59 159.6L228.65 146.3L228.71 160.5L228.76 163.4L228.82 159.1L228.88 158.3L228.93 156.9L228.99 141.0L229.05 159.6L229.10 141.6L229.16 159.2L229.22 167.6L229.27 148.5L229.33 157.0L229.39 159.5L229.44 142.1L229.50 144.1L229.56 150.5L229.61 146.5L229.67 158.1L229.73 158.6L229.78 152.1L229.84 156.1L229.90 138.0L229.95 164.8L230.01 158.6L230.07 156.5L230.12 151.5L230.18 233.6L230.24 164.5L230.29 152.1L230.35 158.3L230.41 150.0L230.46 137.0L230.52 154.6L230.58 158.0L230.63 156.4L230.69 164.3L230.75 158.6L230.80 164.7L230.86 152.3L230.92 143.5L230.97 164.1L231.03 157.0L231.09 157.9L231.14 146.5L231.20 150.1L231.26 150.5L231.31 152.5L231.37 154.3L231.43 159.5L231.48 144.8L231.54 163.0L231.60 156.8L231.65 142.5L231.71 122.0L231.77 159.4L231.82 164.1L231.88 156.4L231.94 162.5L231.99 148.5L232.05 167.0L232.11 145.3L232.16 145.6L232.22 141.7L232.28 154.3L232.33 146.9L232.39 126.0L232.45 147.6L232.50 167.4L232.56 155.6L232.62 158.4L232.67 166.4L232.73 153.3L232.79 149.3L232.84 155.5L232.90 159.3L232.96 145.7L233.01 162.1L233.07 155.7L233.13 148.8L233.18 160.5L233.24 142.1L233.30 167.8L233.35 143.5L233.41 149.6L233.47 147.2L233.52 164.3L233.58 152.7L233.64 120.0L233.69 160.8L233.75 152.2L233.81 139.8L233.86 166.1L233.92 140.4L233.98 141.7L234.03 135.5L234.09 153.8L234.15 146.3L234.20 131.4L234.26 132.4L234.32 133.5L234.37 149.4L234.43 125.7L234.49 127.3L234.54 100.0L234.60 163.4L234.66 138.2L234.71 142.4L234.77 133.6L234.83 127.4L234.88 150.2L234.94 164.2L235.00 142.4L235.05 112.3L235.11 113.7L235.17 144.2L235.22 106.0L235.28 118.9L235.34 137.5L235.39 125.8L235.45 153.8L235.51 121.7L235.56 121.1L235.62 114.3L235.68 167.7L235.73 165.5L235.79 114.4L235.85 120.6L235.90 128.3L235.96 149.1L236.02 99.0L236.07 102.4L236.13 118.3L236.19 154.7L236.24 119.4L236.30 161.8L236.36 105.5L236.41 167.1L236.47 123.4L236.53 140.7L236.58 108.0L236.64 154.9L236.70 115.8L236.75 129.2L236.81 117.5L236.87 133.0L236.92 135.2L236.98 165.5L237.04 99.4L237.09 116.3L237.15 122.0L237.21 132.1L237.26 152.4L237.32 155.4L237.38 122.9L237.43 119.6L237.49 104.1L237.55 141.8L237.60 120.0L237.66 141.1L237.72 118.8L237.77 116.6L237.83 109.8L237.89 97.0L237.94 129.0L238.00 162.0L238.06 126.5L238.11 108.4L238.17 139.7L238.23 126.9L238.28 128.1L238.34 130.3L238.40 124.7L238.45 80.3L238.51 156.0L238.57 152.2L238.62 152.2L238.68 112.2L238.74 150.4L238.79 142.4L238.85 154.2L238.91 140.5L238.96 100.6L239.02 105.5L239.08 134.4L239.13 104.0L239.19 109.9L239.25 160.0L239.30 125.3L239.36 102.8L239.42 114.7L239.47 117.4L239.53 153.1L239.59 122.3L239.64 115.0L239.70 142.3L239.76 113.9L239.81 97.0L239.87 143.2L239.93 100.1L239.98 134.6L240.04 142.3L240.10 155.0L240.15 161.5L240.21 148.9L240.27 146.0L240.32 159.7L240.38 156.9L240.44 143.5L240.49 140.6L240.55 125.0L240.61 140.7L240.66 154.4L240.72 138.6L240.78 149.7L240.83 161.6L240.89 145.2L240.95 158.4L241.00 159.5L241.06 152.2L241.12 151.4L241.17 146.2L241.23 148.1L241.29 157.3L241.34 157.7L241.40 152.2L241.46 140.0L241.51 154.8L241.57 155.0L241.63 157.9L241.68 145.8L241.74 158.3L241.80 149.7L241.85 155.2L241.91 159.8L241.97 150.5L242.02 143.1L242.08 143.6L242.14 147.3L242.19 154.7L242.25 147.5L242.31 233.6L242.36 151.2L242.42 156.1L242.48 150.7L242.53 233.6L242.59 158.5L242.65 145.7L242.70 233.6L242.76 158.3L242.82 153.1L242.87 152.4L242.93 233.6L242.99 150.2L243.04 150.7L243.10 233.6L243.16 150.5L243.21 147.8L243.27 149.4L243.33 233.6L243.38 155.2L243.44 152.4L243.50 151.2L243.55 233.6L243.61 156.9L243.67 154.4L243.72 152.7L243.78 233.6L243.84 154.0L243.89 153.4L243.95 233.6L244.01 137.0L244.06 153.8L244.12 147.6L244.18 233.6L244.23 157.0L244.29 155.8L244.35 233.6L244.40 152.7L244.46 143.2L244.52 154.3L244.57 233.6L244.63 149.8L244.69 151.2L244.74 233.6L244.80 150.8L244.86 151.1L244.91 152.2L244.97 233.6L245.03 150.1L245.08 153.9L245.14 156.0L245.20 233.6L245.25 155.3L245.31 148.6L245.37 149.1L245.42 155.8L245.48 233.6L245.54 153.3L245.59 148.8L245.65 148.9L245.71 152.1L245.76 152.6L245.82 233.6L245.88 153.5L245.93 157.4L245.99 156.8L246.05 155.0L246.10 148.1L246.16 233.6L246.22 152.0L246.27 153.1L246.33 150.1L246.39 153.1L246.44 155.4L246.50 152.9L246.56 233.6L246.61 155.2L246.67 155.8L246.73 149.8L246.78 147.1L246.84 143.3L246.90 233.6L246.95 145.6L247.01 138.0L247.07 158.1L247.12 150.4L247.18 157.3L247.24 151.2L247.29 157.3L247.35 153.8L247.41 161.6L247.46 160.8L247.52 233.6L247.58 155.5L247.63 142.4L247.69 162.0L247.75 149.6L247.80 149.9L247.86 148.4L247.92 149.7L247.97 155.6L248.03 142.2L248.09 143.4L248.14 152.1L248.20 159.0L248.26 156.3L248.31 154.2L248.37 155.5L248.43 153.2L248.48 233.6L248.54 156.5L248.60 153.6L248.65 148.5L248.71 156.1L248.77 150.3L248.82 150.4L248.88 155.5L248.94 154.6L248.99 152.4L249.05 153.0L249.11 151.9L249.16 149.1L249.22 151.5L249.28 149.9L249.33 150.1L249.39 233.6L249.45 152.1L249.50 148.2L249.56 152.4L249.62 153.0L249.67 163.3L249.73 150.7L249.79 145.2L249.84 159.8L249.90 150.7L249.96 145.2L250.01 152.7L250.07 149.3L250.13 153.1L250.18 149.7L250.24 156.0L250.30 233.6L250.35 147.5L250.41 162.0L250.47 161.3L250.52 152.0L250.58 154.3L250.64 148.7L250.69 157.1L250.75 158.6L250.81 154.2L250.86 155.9L250.92 152.8L250.98 150.9L251.03 153.6L251.09 154.2L251.15 151.4L251.20 233.6L251.26 159.7L251.32 116.5L251.37 153.1L251.43 153.7L251.49 150.5L251.54 153.6L251.60 147.9L251.66 153.0L251.71 159.7L251.77 154.8L251.83 157.7L251.88 149.5L251.94 150.9L252.00 155.8L252.05 147.0L252.11 233.6L252.17 152.6L252.22 155.0L252.28 151.5L252.34 153.3L252.39 155.0L252.45 147.8L252.51 152.9L252.56 153.1L252.62 155.8L252.68 153.4L252.73 233.6L252.79 149.7L252.85 152.9L252.90 233.6L252.96 148.5L253.02 151.7L253.07 151.3L253.13 233.6L253.19 154.7L253.24 153.0L253.30 152.9L253.36 233.6L253.41 152.6L253.47 147.6L253.53 150.2L253.58 233.6L253.64 154.8L253.70 150.8L253.75 150.4L253.81 233.6L253.87 153.0L253.92 155.1L253.98 139.0L254.04 151.3L254.09 154.3L254.15 153.5L254.21 153.8L254.26 152.8L254.32 153.6L254.38 155.3L254.43 157.1L254.49 233.6L254.55 159.5L254.60 156.9L254.66 141.5L254.72 155.8L254.77 141.8L254.83 154.6L254.89 149.4L254.94 151.3L255.00 152.2L255.06 151.8L255.11 151.5L255.17 155.8L255.23 233.6L255.28 152.7L255.34 151.9L255.40 233.6L255.45 156.9L255.51 157.2L255.57 151.5L255.62 233.6L255.68 161.5L255.74 153.8L255.79 233.6L255.85 156.1L255.91 150.5L255.96 155.0L256.02 233.6L256.08 154.5L256.13 147.5L256.19 152.4L256.25 233.6L256.30 154.0L256.36 153.6L256.42 233.6L256.47 157.3L256.53 149.8L256.59 154.3L256.64 233.6L256.70 149.5L256.76 150.9L256.81 158.6L256.87 233.6L256.93 153.8L256.98 148.6L257.04 233.6L257.10 148.8L257.15 154.6L257.21 158.7L257.27 233.6L257.32 152.7L257.38 146.7L257.44 154.5L257.49 233.6L257.55 152.2L257.61 152.0L257.66 233.6L257.72 146.9L257.78 151.0L257.83 145.3L257.89 233.6L257.95 150.2L258.00 144.1L258.06 233.6L258.12 153.0L258.17 150.4L258.23 150.5L258.29 149.4L258.34 233.6L258.40 233.6" fill="none" stroke="#1f77b4" stroke-width="0.38" stroke-linejoin="round"/>
<path d="M310.50 55.4L310.56 52.4L310.61 219.3L310.67 132.6L310.72 124.3L310.78 142.7L310.84 149.4L310.89 134.5L310.95 134.0L311.01 132.8L311.06 52.4L311.12 97.1L311.17 122.9L311.23 110.5L311.29 136.6L311.34 60.5L311.40 108.9L311.46 114.6L311.51 145.3L311.57 105.0L311.62 131.1L311.68 142.3L311.74 139.4L311.79 125.8L311.85 91.2L311.91 83.1L311.96 118.0L312.02 114.3L312.07 62.5L312.13 60.5L312.19 44.3L312.24 114.2L312.30 223.7L312.36 77.3L312.41 126.8L312.47 79.4L312.52 81.0L312.58 130.8L312.64 129.3L312.69 73.5L312.75 102.2L312.81 116.2L312.86 105.4L312.92 93.7L312.97 106.2L313.03 44.3L313.09 60.5L313.14 134.4L313.20 123.9L313.25 65.6L313.31 138.8L313.37 76.8L313.42 67.8L313.48 99.6L313.54 138.4L313.59 128.3L313.65 77.3L313.70 105.7L313.76 68.8L313.82 71.8L313.87 85.9L313.93 58.5L313.99 118.9L314.04 90.1L314.10 106.8L314.15 16.1L314.21 218.0L314.27 126.4L314.32 131.4L314.38 102.2L314.44 65.6L314.49 77.8L314.55 93.2L314.60 100.9L314.66 93.3L314.72 130.3L314.77 92.9L314.83 82.5L314.89 93.1L314.94 155.6L315.00 99.0L315.05 94.4L315.11 130.8L315.17 101.5L315.22 156.8L315.28 40.3L315.33 122.7L315.39 143.5L315.45 150.4L315.50 121.7L315.56 88.3L315.62 151.9L315.67 127.8L315.73 128.8L315.78 161.5L315.84 112.1L315.90 132.9L315.95 110.4L316.01 120.1L316.07 145.8L316.12 75.6L316.18 132.8L316.23 110.8L316.29 137.8L316.35 140.5L316.40 108.8L316.46 155.5L316.52 134.2L316.57 98.4L316.63 139.4L316.68 146.2L316.74 160.9L316.80 134.5L316.85 101.7L316.91 142.7L316.97 105.0L317.02 165.1L317.08 68.6L317.13 105.2L317.19 122.7L317.25 119.8L317.30 159.1L317.36 120.3L317.42 137.5L317.47 112.4L317.53 162.6L317.58 119.3L317.64 140.8L317.70 141.4L317.75 143.2L317.81 106.2L317.86 153.4L317.92 159.4L317.98 88.8L318.03 223.7L318.09 115.7L318.15 164.1L318.20 160.1L318.26 120.4L318.31 169.4L318.37 161.9L318.43 135.3L318.48 168.7L318.54 108.8L318.60 106.0L318.65 115.8L318.71 169.1L318.76 122.2L318.82 155.9L318.88 141.7L318.93 132.0L318.99 164.0L319.05 141.9L319.10 155.4L319.16 140.6L319.21 144.2L319.27 140.7L319.33 124.1L319.38 131.8L319.44 131.1L319.50 100.9L319.55 146.7L319.61 119.8L319.66 235.8L319.72 173.9L319.78 153.1L319.83 132.8L319.89 145.7L319.94 143.4L320.00 128.6L320.06 143.6L320.11 104.9L320.17 148.4L320.23 175.0L320.28 148.6L320.34 235.8L320.39 122.7L320.45 158.3L320.51 124.0L320.56 128.6L320.62 144.9L320.68 235.8L320.73 169.8L320.79 122.1L320.84 235.8L320.90 166.6L320.96 235.8L321.01 147.4L321.07 235.8L321.13 168.8L321.18 235.8L321.24 148.6L321.29 164.7L321.35 235.8L321.41 162.5L321.46 235.8L321.52 148.7L321.58 235.8L321.63 155.1L321.69 122.1L321.74 235.8L321.80 152.1L321.86 235.8L321.91 152.3L321.97 235.8L322.03 149.2L322.08 235.8L322.14 148.7L322.19 235.8L322.25 151.8L322.31 165.0L322.36 235.8L322.42 152.0L322.47 235.8L322.53 160.9L322.59 235.8L322.64 152.8L322.70 161.2L322.76 235.8L322.81 154.0L322.87 235.8L322.92 165.7L322.98 235.8L323.04 164.2L323.09 136.2L323.15 235.8L323.21 235.8L323.26 160.1L323.32 235.8L323.37 150.8L323.43 166.8L323.49 235.8L323.54 162.1L323.60 235.8L323.66 165.5L323.71 235.8L323.77 154.4L323.82 157.7L323.88 159.2L323.94 158.9L323.99 166.8L324.05 157.9L324.11 235.8L324.16 162.1L324.22 155.7L324.27 156.4L324.33 161.8L324.39 159.4L324.44 160.9L324.50 150.9L324.56 235.8L324.61 160.4L324.67 235.8L324.72 158.5L324.78 235.8L324.84 159.9L324.89 235.8L324.95 150.1L325.00 235.8L325.06 160.8L325.12 163.6L325.17 235.8L325.23 152.3L325.29 235.8L325.34 158.6L325.40 235.8L325.45 154.4L325.51 156.7L325.57 235.8L325.62 163.7L325.68 235.8L325.74 162.6L325.79 235.8L325.85 155.6L325.90 235.8L325.96 166.8L326.02 235.8L326.07 161.8L326.13 161.1L326.19 235.8L326.24 156.9L326.30 235.8L326.35 164.9L326.41 235.8L326.47 162.9L326.52 235.8L326.58 163.2L326.64 235.8L326.69 161.2L326.75 235.8L326.80 170.0L326.86 161.0L326.92 235.8L326.97 162.2L327.03 235.8L327.08 161.2L327.14 235.8L327.20 161.1L327.25 235.8L327.31 158.9L327.37 150.9L327.42 235.8L327.48 158.3L327.53 235.8L327.59 158.2L327.65 235.8L327.70 155.5L327.76 235.8L327.82 158.8L327.87 235.8L327.93 162.0L327.98 235.8L328.04 154.4L328.10 161.6L328.15 235.8L328.21 153.9L328.27 235.8L328.32 160.3L328.38 235.8L328.43 155.2L328.49 168.5L328.55 235.8L328.60 156.2L328.66 161.7L328.72 161.4L328.77 162.6L328.83 161.0L328.88 235.8L328.94 164.8L329.00 165.6L329.05 156.0L329.11 158.5L329.17 153.2L329.22 159.7L329.28 169.9L329.33 235.8L329.39 161.5L329.45 235.8L329.50 162.1L329.56 235.8L329.61 159.5L329.67 235.8L329.73 159.7L329.78 235.8L329.84 159.3L329.90 159.8L329.95 235.8L330.01 167.6L330.06 235.8L330.12 149.9L330.18 235.8L330.23 159.1L330.29 235.8L330.35 168.3L330.40 235.8L330.46 162.6L330.51 161.4L330.57 235.8L330.63 157.2L330.68 235.8L330.74 159.2L330.80 235.8L330.85 169.8L330.91 235.8L330.96 159.0L331.02 235.8L331.08 162.2L331.13 156.9L331.19 235.8L331.25 165.0L331.30 235.8L331.36 158.3L331.41 235.8L331.47 162.4L331.53 235.8L331.58 160.2L331.64 235.8L331.69 166.8L331.75 235.8L331.81 151.2L331.86 154.8L331.92 235.8L331.98 166.1L332.03 235.8L332.09 153.6L332.14 235.8L332.20 163.3L332.26 235.8L332.31 156.4L332.37 162.5L332.43 160.3L332.48 159.3L332.54 166.6L332.59 161.1L332.65 159.8L332.71 160.4L332.76 157.6L332.82 235.8L332.88 159.6L332.93 166.1L332.99 156.7L333.04 161.9L333.10 163.4L333.16 149.2L333.21 159.6L333.27 235.8L333.33 158.8L333.38 160.3L333.44 235.8L333.49 157.2L333.55 235.8L333.61 156.4L333.66 235.8L333.72 158.5L333.78 235.8L333.83 164.2L333.89 235.8L333.94 150.1L334.00 165.6L334.06 235.8L334.11 160.1L334.17 235.8L334.22 149.5L334.28 235.8L334.34 160.0L334.39 157.6L334.45 235.8L334.51 160.5L334.56 235.8L334.62 163.7L334.67 235.8L334.73 161.7L334.79 235.8L334.84 156.0L334.90 235.8L334.96 166.0L335.01 164.4L335.07 235.8L335.12 150.6L335.18 235.8L335.24 153.8L335.29 235.8L335.35 164.7L335.41 235.8L335.46 156.9L335.52 235.8L335.57 157.9L335.63 159.1L335.69 235.8L335.74 160.6L335.80 235.8L335.86 170.5L335.91 235.8L335.97 151.9L336.02 235.8L336.08 154.2L336.14 160.3L336.19 235.8L336.25 158.5L336.30 235.8L336.36 162.6L336.42 235.8L336.47 159.5L336.53 235.8L336.59 158.3L336.64 171.0L336.70 235.8L336.75 235.8L336.81 163.4L336.87 156.1L336.92 235.8L336.98 163.5L337.04 235.8L337.09 163.9L337.15 235.8L337.20 165.1L337.26 235.8L337.32 161.2L337.37 160.6L337.43 235.8L337.49 165.8L337.54 235.8L337.60 161.5L337.65 160.2L337.71 235.8L337.77 235.8L337.82 162.9L337.88 162.1L337.94 235.8L337.99 155.2L338.05 235.8L338.10 160.8L338.16 235.8L338.22 160.1L338.27 235.8L338.33 160.1L338.39 235.8L338.44 158.4L338.50 153.5L338.55 235.8L338.61 156.7L338.67 235.8L338.72 157.7L338.78 235.8L338.83 162.3L338.89 235.8L338.95 162.3L339.00 157.2L339.06 235.8L339.12 159.6L339.17 235.8L339.23 163.6L339.28 235.8L339.34 164.3L339.40 159.0L339.45 235.8L339.51 235.8L339.57 155.5L339.62 164.7L339.68 235.8L339.73 164.2L339.79 235.8L339.85 155.3L339.90 235.8L339.96 165.8L340.02 235.8L340.07 157.8L340.13 235.8L340.18 162.5L340.24 156.5L340.30 235.8L340.35 149.7L340.41 235.8L340.47 161.3L340.52 235.8L340.58 160.0L340.63 156.9L340.69 235.8L340.75 235.8L340.80 163.1L340.86 161.7L340.92 235.8L340.97 158.3L341.03 235.8L341.08 162.0L341.14 235.8L341.20 160.7L341.25 165.5L341.31 235.8L341.36 164.7L341.42 235.8L341.48 158.9L341.53 235.8L341.59 161.7L341.65 235.8L341.70 155.9L341.76 150.1L341.81 235.8L341.87 158.5L341.93 235.8L341.98 160.8L342.04 235.8L342.10 162.5L342.15 235.8L342.21 157.3L342.26 235.8L342.32 160.0L342.38 235.8L342.43 160.2L342.49 157.9L342.55 235.8L342.60 150.5L342.66 235.8L342.71 157.9L342.77 235.8L342.83 156.7L342.88 235.8L342.94 147.9L343.00 235.8L343.05 158.7L343.11 159.9L343.16 235.8L343.22 163.5L343.28 235.8L343.33 159.6L343.39 235.8L343.44 159.4L343.50 161.9L343.56 235.8L343.61 157.9L343.67 235.8L343.73 148.1L343.78 235.8L343.84 156.8L343.89 235.8L343.95 153.9L344.01 235.8L344.06 164.1L344.12 235.8L344.18 162.0L344.23 162.9L344.29 235.8L344.34 158.7L344.40 235.8L344.46 166.9L344.51 235.8L344.57 163.8L344.63 159.8L344.68 235.8L344.74 161.3L344.79 235.8L344.85 162.5L344.91 235.8L344.96 165.7L345.02 235.8L345.08 157.2L345.13 159.6L345.19 235.8L345.24 157.9L345.30 235.8L345.36 165.3L345.41 235.8L345.47 150.8L345.53 235.8L345.58 163.1L345.64 235.8L345.69 160.5L345.75 235.8L345.81 157.4L345.86 235.8L345.92 165.5L345.97 147.8L346.03 235.8L346.09 158.1L346.14 235.8L346.20 150.2L346.26 235.8L346.31 161.0L346.37 158.9L346.42 235.8L346.48 156.0L346.54 235.8L346.59 163.6L346.65 235.8L346.71 165.9L346.76 235.8L346.82 159.4L346.87 235.8L346.93 162.1L346.99 158.9L347.04 235.8L347.10 161.0L347.16 235.8L347.21 155.3L347.27 235.8L347.32 166.6L347.38 235.8L347.44 153.7L347.49 161.1L347.55 235.8L347.61 156.5L347.66 235.8L347.72 166.1L347.77 235.8L347.83 156.3L347.89 235.8L347.94 157.4L348.00 163.4L348.05 235.8L348.11 158.9L348.17 235.8L348.22 156.2L348.28 235.8L348.34 162.8L348.39 235.8L348.45 159.9L348.50 157.8L348.56 235.8L348.62 157.8L348.67 235.8L348.73 159.7L348.79 235.8L348.84 157.8L348.90 235.8L348.95 162.2L349.01 235.8L349.07 158.3L349.12 235.8L349.18 159.5L349.24 160.7L349.29 156.3L349.35 155.8L349.40 165.3L349.46 167.7L349.52 162.2L349.57 170.3L349.63 161.0L349.69 157.4L349.74 157.2L349.80 168.5L349.85 161.5L349.91 156.6L349.97 164.2L350.02 158.8L350.08 157.9L350.14 158.7L350.19 165.1L350.25 161.3L350.30 161.3L350.36 162.1L350.42 159.9L350.47 163.3L350.53 157.9L350.58 153.9L350.64 163.2L350.70 163.5L350.75 158.6L350.81 164.9L350.87 164.0L350.92 160.0L350.98 153.9L351.03 159.0L351.09 157.5L351.15 160.1L351.20 155.6L351.26 165.7L351.32 160.5L351.37 150.1L351.43 235.8L351.48 155.4L351.54 160.5L351.60 159.0L351.65 159.0L351.71 152.3L351.77 167.1L351.82 157.1L351.88 165.3L351.93 161.0L351.99 161.8L352.05 156.3L352.10 156.6L352.16 161.7L352.22 157.4L352.27 162.4L352.33 157.2L352.38 163.1L352.44 157.4L352.50 163.1L352.55 163.6L352.61 149.1L352.67 156.2L352.72 159.2L352.78 159.8L352.83 157.9L352.89 163.5L352.95 161.3L353.00 159.8L353.06 160.8L353.11 160.8L353.17 159.6L353.23 162.0L353.28 164.7L353.34 166.5L353.40 163.5L353.45 158.6L353.51 157.0L353.56 155.7L353.62 158.9L353.68 159.4L353.73 162.3L353.79 154.0L353.85 159.5L353.90 163.4L353.96 154.8L354.01 165.9L354.07 160.9L354.13 155.8L354.18 235.8L354.24 161.7L354.30 154.0L354.35 156.2L354.41 153.5L354.46 170.5L354.52 159.9L354.58 155.9L354.63 158.5L354.69 157.0L354.75 157.0L354.80 157.5L354.86 235.8L354.91 154.8L354.97 157.6L355.03 159.6L355.08 158.3L355.14 163.9L355.19 153.1L355.25 159.0L355.31 163.5L355.36 165.2L355.42 165.8L355.48 158.3L355.53 160.4L355.59 158.3L355.64 156.5L355.70 159.2L355.76 157.4L355.81 150.7L355.87 157.5L355.93 166.9L355.98 158.5L356.04 161.0L356.09 160.0L356.15 165.5L356.21 157.9L356.26 160.2L356.32 160.8L356.38 162.4L356.43 162.0L356.49 159.4L356.54 158.0L356.60 163.0L356.66 156.7L356.71 156.3L356.77 159.3L356.83 153.8L356.88 157.0L356.94 138.0L356.99 163.4L357.05 155.0L357.11 159.2L357.16 156.8L357.22 155.9L357.28 162.4L357.33 158.7L357.39 154.7L357.44 166.2L357.50 159.4L357.56 161.3L357.61 157.1L357.67 165.7L357.72 166.7L357.78 157.9L357.84 155.9L357.89 157.0L357.95 160.1L358.01 159.6L358.06 157.4L358.12 160.2L358.17 159.4L358.23 162.5L358.29 161.8L358.34 169.6L358.40 163.8L358.46 159.9L358.51 147.5L358.57 163.4L358.62 163.0L358.68 150.4L358.74 159.6L358.79 157.7L358.85 158.9L358.91 155.0L358.96 162.4L359.02 159.1L359.07 158.2L359.13 162.2L359.19 163.9L359.24 163.7L359.30 156.0L359.36 158.6L359.41 159.9L359.47 158.9L359.52 159.9L359.58 160.0L359.64 151.2L359.69 155.2L359.75 153.6L359.80 165.4L359.86 163.7L359.92 158.8L359.97 157.4L360.03 149.0L360.09 159.2L360.14 154.3L360.20 163.6L360.25 148.7L360.31 155.1L360.37 159.5L360.42 160.9L360.48 159.7L360.54 157.3L360.59 156.9L360.65 162.1L360.70 160.1L360.76 149.4L360.82 169.5L360.87 159.6L360.93 158.8L360.99 156.6L361.04 163.1L361.10 154.8L361.15 157.6L361.21 155.3L361.27 160.3L361.32 142.3L361.38 155.0L361.44 156.8L361.49 155.1L361.55 165.6L361.60 148.1L361.66 154.4L361.72 150.2L361.77 165.3L361.83 161.3L361.89 158.9L361.94 158.1L362.00 158.1L362.05 162.4L362.11 157.5L362.17 164.0L362.22 158.0L362.28 160.6L362.33 158.4L362.39 161.9L362.45 164.5L362.50 160.3L362.56 160.6L362.62 154.6L362.67 164.4L362.73 166.5L362.78 159.4L362.84 171.6L362.90 163.4L362.95 163.7L363.01 163.1L363.07 154.1L363.12 162.2L363.18 160.9L363.23 158.2L363.29 161.7L363.35 162.9L363.40 157.7L363.46 161.1L363.52 159.4L363.57 164.7L363.63 161.4L363.68 158.0L363.74 157.7L363.80 156.0L363.85 163.1L363.91 153.5L363.97 155.9L364.02 161.8L364.08 162.1L364.13 160.9L364.19 157.6L364.25 162.8L364.30 160.3L364.36 165.0L364.41 155.6L364.47 156.2L364.53 162.0L364.58 160.5L364.64 162.6L364.70 157.1L364.75 160.0L364.81 157.5L364.86 159.1L364.92 154.5L364.98 159.1L365.03 158.5L365.09 163.1L365.15 165.6L365.20 149.7L365.26 150.7L365.31 159.8L365.37 167.4L365.43 156.2L365.48 162.0L365.54 162.6L365.60 160.3L365.65 162.7L365.71 155.4L365.76 158.3L365.82 158.3L365.88 142.3L365.93 164.0L365.99 159.1L366.05 146.9L366.10 160.7L366.16 158.7L366.21 169.1L366.27 160.9L366.33 157.8L366.38 171.1L366.44 158.3L366.50 159.3L366.55 153.7L366.61 156.5L366.66 157.0L366.72 156.4L366.78 161.5L366.83 158.9L366.89 153.3L366.94 157.2L367.00 153.6L367.06 154.4L367.11 235.8L367.17 150.8L367.23 159.6L367.28 162.8L367.34 156.2L367.39 159.4L367.45 168.7L367.51 154.4L367.56 156.1L367.62 156.7L367.68 235.8L367.73 161.7L367.79 147.1L367.84 161.7L367.90 161.0L367.96 158.5L368.01 165.1L368.07 146.7L368.13 160.5L368.18 158.7L368.24 235.8L368.29 164.4L368.35 160.3L368.41 161.4L368.46 159.6L368.52 158.6L368.58 169.5L368.63 161.3L368.69 160.1L368.74 159.8L368.80 235.8L368.86 147.6L368.91 154.8L368.97 153.7L369.03 142.3L369.08 146.8L369.14 169.8L369.19 163.3L369.25 164.2L369.31 156.1L369.36 158.4L369.42 155.6L369.47 159.9L369.53 156.8L369.59 159.7L369.64 157.0L369.70 158.7L369.76 170.2L369.81 160.5L369.87 162.5L369.92 161.9L369.98 160.2L370.04 155.1L370.09 159.9L370.15 160.2L370.21 170.8L370.26 154.7L370.32 156.6L370.37 163.1L370.43 158.6L370.49 157.6L370.54 154.4L370.60 158.8L370.66 165.2L370.71 154.9L370.77 159.1L370.82 162.6L370.88 159.4L370.94 157.0L370.99 235.8L371.05 159.3L371.11 164.5L371.16 156.4L371.22 162.9L371.27 157.1L371.33 160.4L371.39 160.4L371.44 148.1L371.50 164.3L371.55 158.2L371.61 161.1L371.67 165.6L371.72 165.9L371.78 158.5L371.84 161.3L371.89 158.1L371.95 159.7L372.00 157.6L372.06 156.3L372.12 158.7L372.17 160.4L372.23 160.5L372.29 154.9L372.34 158.5L372.40 162.6L372.45 163.7L372.51 163.2L372.57 163.8L372.62 159.1L372.68 153.2L372.74 154.6L372.79 159.9L372.85 157.9L372.90 162.8L372.96 161.1L373.02 235.8L373.07 156.9L373.13 235.8L373.19 158.9L373.24 235.8L373.30 154.4L373.35 154.7L373.41 235.8L373.47 235.8L373.52 165.9L373.58 147.1L373.64 235.8L373.69 158.5L373.75 235.8L373.80 155.9L373.86 235.8L373.92 164.3L373.97 153.2L374.03 235.8L374.08 159.7L374.14 235.8L374.20 160.3L374.25 235.8L374.31 163.6L374.37 235.8L374.42 157.6L374.48 235.8L374.53 166.1L374.59 235.8L374.65 155.4L374.70 160.7L374.76 235.8L374.82 151.5L374.87 235.8L374.93 149.3L374.98 235.8L375.04 153.8L375.10 154.2L375.15 235.8L375.21 159.4L375.27 235.8L375.32 153.3L375.38 235.8L375.43 158.5L375.49 161.0L375.55 235.8L375.60 235.8L375.66 160.3L375.72 159.5L375.77 235.8L375.83 150.8L375.88 235.8L375.94 159.5L376.00 235.8L376.05 158.2L376.11 235.8L376.16 162.6L376.22 161.1L376.28 235.8L376.33 162.0L376.39 235.8L376.45 148.9L376.50 235.8L376.56 158.9L376.61 235.8L376.67 165.5L376.73 235.8L376.78 158.7L376.84 156.5L376.90 235.8L376.95 157.9L377.01 235.8L377.06 154.5L377.12 152.3L377.18 235.8L377.23 155.3L377.29 235.8L377.35 165.5L377.40 235.8L377.46 156.0L377.51 235.8L377.57 159.6L377.63 235.8L377.68 157.0L377.74 159.5L377.80 235.8L377.85 161.4L377.91 235.8L377.96 160.7L378.02 235.8L378.08 160.6L378.13 235.8L378.19 151.1L378.25 235.8L378.30 158.4L378.36 164.5L378.41 235.8L378.47 161.0L378.53 235.8L378.58 161.1L378.64 235.8L378.69 161.0L378.75 168.4L378.81 235.8L378.86 152.5L378.92 235.8L378.98 158.0L379.03 235.8L379.09 161.9L379.14 235.8L379.20 159.5L379.26 235.8L379.31 159.4L379.37 235.8L379.43 158.0L379.48 159.6L379.54 235.8L379.59 160.4L379.65 235.8L379.71 157.7L379.76 235.8L379.82 156.4L379.88 151.8L379.93 235.8L379.99 165.0L380.04 235.8L380.10 158.6L380.16 235.8L380.21 160.4L380.27 235.8L380.33 154.5L380.38 163.4L380.44 160.2L380.49 235.8L380.55 162.9L380.61 155.0L380.66 159.4L380.72 160.6L380.77 147.1L380.83 235.8L380.89 162.5L380.94 170.7L381.00 163.7L381.06 170.3L381.11 160.4L381.17 235.8L381.22 159.5L381.28 161.2L381.34 162.3L381.39 161.0L381.45 158.7L381.51 235.8L381.56 160.4L381.62 164.7L381.67 155.9L381.73 157.9L381.79 156.1L381.84 235.8L381.90 158.5L381.96 162.6L382.01 162.8L382.07 162.6L382.12 160.1L382.18 235.8L382.24 160.1L382.29 167.9L382.35 152.6L382.41 161.5L382.46 163.7L382.52 235.8L382.57 157.4L382.63 170.3L382.69 158.1L382.74 158.1L382.80 235.8L382.86 159.6L382.91 159.7L382.97 160.2L383.02 156.2L383.08 163.9L383.14 235.8L383.19 162.5L383.25 162.1L383.30 160.5L383.36 152.2L383.42 162.9L383.47 235.8L383.53 164.2L383.59 159.9L383.64 161.5L383.70 154.7L383.75 160.1L383.81 235.8L383.87 155.8L383.92 154.1L383.98 165.0L384.04 159.7L384.09 159.2L384.15 235.8L384.20 157.8L384.26 158.0L384.32 157.1L384.37 160.2L384.43 235.8L384.49 167.7L384.54 156.8L384.60 156.4L384.65 162.0L384.71 156.4L384.77 157.3L384.82 159.3L384.88 158.9L384.94 158.9L384.99 153.4L385.05 156.8L385.10 161.5L385.16 159.3L385.22 149.4L385.27 163.2L385.33 162.6L385.39 157.6L385.44 160.2L385.50 164.3L385.55 159.2L385.61 163.7L385.67 155.6L385.72 153.3L385.78 235.8L385.83 152.2L385.89 154.4L385.95 160.6L386.00 170.8L386.06 154.6L386.12 158.7L386.17 159.3L386.23 156.1L386.28 235.8L386.34 163.9L386.40 160.3L386.45 160.6L386.51 161.2L386.57 153.0L386.62 159.5L386.68 155.9L386.73 162.3L386.79 156.7L386.85 235.8L386.90 156.0L386.96 162.5L387.02 158.9L387.07 155.3L387.13 162.9L387.18 170.8L387.24 151.2L387.30 163.6L387.35 235.8L387.41 161.3L387.47 156.7L387.52 166.2L387.58 160.1L387.63 161.4L387.69 161.1L387.75 155.7L387.80 137.9L387.86 235.8L387.91 162.0L387.97 162.1L388.03 154.7L388.08 157.4L388.14 150.9L388.20 160.4L388.25 157.2L388.31 159.1L388.36 149.3L388.42 155.4L388.48 149.4L388.53 159.1L388.59 154.3L388.65 162.5L388.70 162.1L388.76 156.0L388.81 158.2L388.87 158.4L388.93 164.3L388.98 169.1L389.04 162.6L389.10 147.0L389.15 157.0L389.21 160.8L389.26 154.6L389.32 158.6L389.38 159.2L389.43 156.6L389.49 159.7L389.55 159.5L389.60 160.8L389.66 158.5L389.71 166.4L389.77 157.0L389.83 153.3L389.88 157.7L389.94 161.5L390.00 159.5L390.05 160.0L390.11 153.6L390.16 154.6L390.22 163.3L390.28 150.4L390.33 154.7L390.39 162.4L390.44 164.8L390.50 155.2L390.56 170.4L390.61 157.9L390.67 148.6L390.73 164.6L390.78 169.5L390.84 164.9L390.89 160.6L390.95 156.3L391.01 168.4L391.06 164.2L391.12 166.4L391.18 158.5L391.23 158.3L391.29 157.8L391.34 154.4L391.40 147.6L391.46 162.1L391.51 167.0L391.57 161.6L391.63 162.8L391.68 163.3L391.74 160.2L391.79 160.8L391.85 162.5L391.91 147.1L391.96 161.7L392.02 158.2L392.08 160.3L392.13 157.7L392.19 161.3L392.24 162.9L392.30 152.3L392.36 235.8L392.41 159.8L392.47 162.7L392.52 155.1L392.58 156.1L392.64 155.8L392.69 154.7L392.75 159.5L392.81 154.4L392.86 157.9L392.92 160.5L392.97 162.8L393.03 235.8L393.09 158.6L393.14 163.4L393.20 165.0L393.26 161.6L393.31 156.2L393.37 142.3L393.42 157.7L393.48 165.1L393.54 159.9L393.59 162.7L393.65 158.5L393.71 155.0L393.76 156.7L393.82 163.9L393.87 153.5L393.93 161.8L393.99 155.9L394.04 159.9L394.10 158.2L394.16 161.8L394.21 150.5L394.27 160.1L394.32 160.5L394.38 161.2L394.44 153.5L394.49 159.6L394.55 156.5L394.61 159.7L394.66 147.6L394.72 160.2L394.77 150.7L394.83 157.4L394.89 160.4L394.94 160.4L395.00 155.2L395.05 142.3L395.11 163.8L395.17 163.2L395.22 153.7L395.28 156.3L395.34 156.9L395.39 160.8L395.45 160.7L395.50 164.9L395.56 157.5L395.62 164.3L395.67 165.2L395.73 160.3L395.79 156.5L395.84 160.5L395.90 158.0L395.95 155.5L396.01 156.8L396.07 157.0L396.12 159.8L396.18 163.3L396.24 158.3L396.29 161.4L396.35 162.1L396.40 159.3L396.46 158.4L396.52 155.6L396.57 158.5L396.63 154.2L396.69 159.5L396.74 160.6L396.80 161.7L396.85 157.4L396.91 163.8L396.97 158.0L397.02 148.8L397.08 157.5L397.14 162.0L397.19 157.1L397.25 157.3L397.30 149.0L397.36 153.5L397.42 159.9L397.47 156.8L397.53 150.1L397.58 165.5L397.64 155.1L397.70 155.8L397.75 158.3L397.81 160.5L397.87 159.7L397.92 160.1L397.98 156.9L398.03 162.8L398.09 163.5L398.15 156.7L398.20 154.8L398.26 157.8L398.32 161.0L398.37 161.2L398.43 159.4L398.48 156.6L398.54 158.5L398.60 160.1L398.65 164.5L398.71 160.3L398.77 161.0L398.82 154.5L398.88 161.9L398.93 154.7L398.99 152.5L399.05 163.9L399.10 156.8L399.16 162.8L399.22 154.6L399.27 161.1L399.33 160.6L399.38 156.2L399.44 161.3L399.50 158.0L399.55 162.4L399.61 159.5L399.66 157.9L399.72 169.5L399.78 160.4L399.83 160.4L399.89 163.4L399.95 157.0L400.00 149.6L400.06 159.9L400.11 156.7L400.17 159.8L400.23 163.3L400.28 157.4L400.34 165.0L400.40 159.8L400.45 152.3L400.51 141.3L400.56 156.6L400.62 154.9L400.68 151.2L400.73 150.4L400.79 158.7L400.85 159.8L400.90 154.2L400.96 148.8L401.01 162.9L401.07 149.1L401.13 157.5L401.18 157.7L401.24 161.3L401.30 154.7L401.35 163.0L401.41 158.5L401.46 160.2L401.52 147.2L401.58 161.9L401.63 235.8L401.69 149.5L401.75 157.0L401.80 161.4L401.86 158.7L401.91 160.0L401.97 170.5L402.03 158.7L402.08 158.0L402.14 147.0L402.19 164.8L402.25 153.3L402.31 165.0L402.36 162.2L402.42 158.2L402.48 138.0L402.53 157.1L402.59 168.1L402.64 153.7L402.70 160.6L402.76 151.4L402.81 157.2L402.87 169.3L402.93 159.3L402.98 159.6L403.04 156.7L403.09 154.6L403.15 159.2L403.21 157.3L403.26 156.8L403.32 164.3L403.38 158.4L403.43 155.8L403.49 163.0L403.54 155.7L403.60 160.1L403.66 161.0L403.71 155.1L403.77 155.1L403.83 165.4L403.88 160.1L403.94 162.2L403.99 157.6L404.05 159.2L404.11 156.0L404.16 157.3L404.22 151.1L404.27 161.6L404.33 155.4L404.39 157.4L404.44 149.2L404.50 153.9L404.56 160.8L404.61 153.2L404.67 148.5L404.72 159.9L404.78 157.0L404.84 167.4L404.89 157.4L404.95 163.4L405.01 147.7L405.06 158.6L405.12 163.8L405.17 160.8L405.23 160.8L405.29 162.3L405.34 148.2L405.40 157.2L405.46 159.7L405.51 160.9L405.57 159.1L405.62 160.8L405.68 159.0L405.74 160.9L405.79 147.8L405.85 160.2L405.91 157.0L405.96 161.6L406.02 154.3L406.07 156.8L406.13 156.1L406.19 158.5L406.24 159.9L406.30 165.4L406.36 157.6L406.41 162.3L406.47 155.8L406.52 157.0L406.58 160.9L406.64 162.0L406.69 159.4L406.75 148.2L406.80 151.6L406.86 160.1L406.92 154.2L406.97 160.5L407.03 156.2L407.09 164.9L407.14 154.5L407.20 157.9L407.25 155.0L407.31 157.0L407.37 158.3L407.42 153.9L407.48 161.6L407.54 158.8L407.59 159.5L407.65 156.2L407.70 164.2L407.76 147.0L407.82 155.8L407.87 159.4L407.93 158.2L407.99 159.8L408.04 158.5L408.10 160.5L408.15 159.2L408.21 158.9L408.27 164.0L408.32 161.3L408.38 153.8L408.44 162.3L408.49 163.2L408.55 155.3L408.60 151.0L408.66 157.0L408.72 156.7L408.77 156.3L408.83 158.8L408.88 155.6L408.94 159.2L409.00 159.8L409.05 158.1L409.11 159.0L409.17 157.6L409.22 148.8L409.28 160.7L409.33 156.7L409.39 164.2L409.45 163.1L409.50 148.8L409.56 164.8L409.62 160.7L409.67 164.0L409.73 147.7L409.78 156.5L409.84 161.8L409.90 159.5L409.95 169.3L410.01 158.1L410.07 158.6L410.12 159.0L410.18 158.7L410.23 157.2L410.29 151.9L410.35 155.5L410.40 156.8L410.46 161.7L410.52 159.5L410.57 159.0L410.63 235.8L410.68 158.8L410.74 151.0L410.80 155.6L410.85 157.3L410.91 145.9L410.97 235.8L411.02 159.0L411.08 158.8L411.13 162.1L411.19 169.0L411.25 160.0L411.30 235.8L411.36 160.9L411.41 158.8L411.47 162.2L411.53 156.6L411.58 149.9L411.64 235.8L411.70 156.8L411.75 156.5L411.81 161.6L411.86 156.5L411.92 235.8L411.98 152.9L412.03 167.8L412.09 168.7L412.15 160.7L412.20 163.4L412.26 235.8L412.31 161.3L412.37 149.3L412.43 157.8L412.48 156.7L412.54 161.0L412.60 235.8L412.65 162.4L412.71 163.9L412.76 155.4L412.82 161.1L412.88 154.8L412.93 235.8L412.99 156.7L413.05 160.0L413.10 162.3L413.16 160.9L413.21 235.8L413.27 160.7L413.33 157.4L413.38 161.8L413.44 149.8L413.50 157.1L413.55 235.8L413.61 164.5L413.66 158.8L413.72 162.4L413.78 161.6L413.83 152.7L413.89 235.8L413.94 166.8L414.00 162.7L414.06 155.7L414.11 163.8L414.17 153.1L414.23 235.8L414.28 162.5L414.34 155.2L414.39 155.1L414.45 154.4L414.51 149.8L414.56 160.1L414.62 158.2L414.68 156.1L414.73 156.1L414.79 153.9L414.84 162.1L414.90 159.1L414.96 159.4L415.01 162.2L415.07 165.2L415.13 160.4L415.18 161.4L415.24 159.2L415.29 164.1L415.35 156.1L415.41 153.3L415.46 154.0L415.52 159.5L415.58 161.8L415.63 161.9L415.69 162.8L415.74 235.8L415.80 148.7L415.86 157.5L415.91 154.0L415.97 158.3L416.02 157.3L416.08 160.8L416.14 154.6L416.19 159.7L416.25 157.1L416.31 169.4L416.36 150.0L416.42 154.5L416.47 158.1L416.53 162.2L416.59 155.8L416.64 164.2L416.70 156.4L416.76 157.9L416.81 164.0L416.87 157.8L416.92 162.0L416.98 149.6L417.04 163.1L417.09 159.0L417.15 160.1L417.21 159.1L417.26 153.1L417.32 148.8L417.37 160.5L417.43 160.9L417.49 235.8L417.54 150.6L417.60 162.9L417.66 161.1L417.71 157.5L417.77 160.1L417.82 157.1L417.88 159.7L417.94 156.0L417.99 156.6L418.05 147.6L418.11 158.2L418.16 157.5L418.22 159.8L418.27 157.5L418.33 149.0L418.39 159.5L418.44 158.3L418.50 157.5L418.55 157.8L418.61 163.9L418.67 160.8L418.72 156.5L418.78 161.3L418.84 154.4L418.89 159.9L418.95 235.8L419.00 159.8L419.06 171.1L419.12 160.9L419.17 159.3L419.23 157.4L419.29 235.8L419.34 158.9L419.40 158.0L419.45 160.3L419.51 158.9L419.57 147.7L419.62 235.8L419.68 157.7L419.74 158.1L419.79 160.8L419.85 159.4L419.90 161.1L419.96 235.8L420.02 160.5L420.07 158.0L420.13 158.6L420.19 163.7L420.24 159.3L420.30 235.8L420.35 157.5L420.41 160.3L420.47 158.7L420.52 158.5L420.58 159.1L420.63 235.8L420.69 156.7L420.75 125.6L420.80 165.3L420.86 158.6L420.92 161.1L420.97 164.8L421.03 235.8L421.08 157.4L421.14 159.6L421.20 160.6L421.25 157.8L421.31 235.8L421.37 161.6L421.42 157.8L421.48 160.7L421.53 166.5L421.59 164.6L421.65 235.8L421.70 159.3L421.76 161.8L421.82 156.9L421.87 160.4L421.93 160.6L421.98 158.6L422.04 150.2L422.10 155.6L422.15 159.2L422.21 156.7L422.27 160.7L422.32 162.8L422.38 164.0L422.43 160.0L422.49 155.9L422.55 165.8L422.60 164.7L422.66 156.3L422.72 158.2L422.77 163.6L422.83 157.3L422.88 163.4L422.94 162.1L423.00 171.1L423.05 235.8L423.11 148.0L423.16 165.1L423.22 169.2L423.28 160.2L423.33 157.0L423.39 158.2L423.45 159.4L423.50 159.3L423.56 156.4L423.61 158.4L423.67 159.4L423.73 159.6L423.78 145.9L423.84 165.0L423.90 158.3L423.95 163.3L424.01 154.3L424.06 164.1L424.12 152.7L424.18 162.9L424.23 154.9L424.29 153.4L424.35 157.6L424.40 163.2L424.46 235.8L424.51 157.3L424.57 159.4L424.63 160.3L424.68 156.9L424.74 156.8L424.80 162.6L424.85 155.9L424.91 156.5L424.96 162.5L425.02 161.3L425.08 158.8L425.13 161.5L425.19 156.7L425.25 159.6L425.30 163.4L425.36 235.8L425.41 157.1L425.47 161.8L425.53 165.0L425.58 159.5L425.64 162.7L425.69 160.7L425.75 165.9L425.81 159.2L425.86 155.8L425.92 161.7L425.98 164.6L426.03 160.2L426.09 162.4L426.14 158.7L426.20 170.0L426.26 162.0L426.31 235.8L426.37 167.0L426.43 159.3L426.48 154.4L426.54 150.8L426.59 156.1L426.65 148.8L426.71 160.1L426.76 166.9L426.82 148.3L426.88 159.4L426.93 165.2L426.99 164.4L427.04 159.7L427.10 160.0L427.16 153.8L427.21 235.8L427.27 161.8L427.33 159.7L427.38 154.9L427.44 149.5L427.49 160.9L427.55 165.9L427.61 158.3L427.66 161.1L427.72 159.9L427.77 162.9L427.83 156.1L427.89 156.8L427.94 159.8L428.00 160.4L428.06 154.4L428.11 164.4L428.17 235.8L428.22 162.6L428.28 163.0L428.34 152.3L428.39 159.5L428.45 162.3L428.51 155.2L428.56 153.8L428.62 153.0L428.67 158.2L428.73 165.3L428.79 156.7L428.84 165.4L428.90 157.5L428.96 160.6L429.01 157.7L429.07 235.8L429.12 161.8L429.18 161.6L429.24 153.8L429.29 163.7L429.35 152.6L429.41 156.8L429.46 154.6L429.52 161.4L429.57 158.9L429.63 156.6L429.69 163.3L429.74 166.2L429.80 164.0L429.86 165.4L429.91 159.7L429.97 157.9L430.02 158.2L430.08 235.8L430.14 159.2L430.19 157.3L430.25 235.8L430.30 160.8L430.36 235.8L430.42 161.6L430.47 235.8L430.53 159.9L430.59 170.1L430.64 235.8L430.70 157.3L430.75 235.8L430.81 162.1L430.87 235.8L430.92 157.4L430.98 235.8L431.04 162.5L431.09 164.8L431.15 235.8L431.20 149.0L431.26 235.8L431.32 163.5L431.37 235.8L431.43 162.5L431.49 235.8L431.54 158.3L431.60 235.8L431.65 160.4L431.71 235.8L431.77 159.1L431.82 158.7L431.88 235.8L431.94 163.5L431.99 235.8L432.05 156.4L432.10 160.7L432.16 235.8L432.22 235.8L432.27 158.4L432.33 235.8L432.38 162.6L432.44 158.1L432.50 235.8L432.55 162.9L432.61 235.8L432.67 156.2L432.72 159.6L432.78 235.8L432.83 235.8L432.89 162.4L432.95 153.0L433.00 235.8L433.06 158.5L433.12 235.8L433.17 161.4L433.23 235.8L433.28 149.8L433.34 235.8L433.40 162.3L433.45 235.8L433.51 163.1L433.57 163.9L433.62 235.8L433.68 163.3L433.73 235.8L433.79 160.9L433.85 159.0L433.90 235.8L433.96 164.8L434.02 235.8L434.07 166.3L434.13 235.8L434.18 159.4L434.24 235.8L434.30 157.7L434.35 235.8L434.41 164.6L434.47 156.5L434.52 235.8L434.58 164.3L434.63 235.8L434.69 165.2L434.75 235.8L434.80 157.5L434.86 235.8L434.91 164.8L434.97 161.2L435.03 235.8L435.08 161.7L435.14 235.8L435.20 164.0L435.25 235.8L435.31 166.3L435.36 235.8L435.42 164.6L435.48 235.8L435.53 167.4L435.59 235.8L435.65 163.1L435.70 162.6L435.76 235.8L435.81 161.4L435.87 235.8L435.93 152.8L435.98 235.8L436.04 162.9L436.10 235.8L436.15 162.7L436.21 164.8L436.26 235.8L436.32 152.5L436.38 235.8L436.43 158.2L436.49 235.8L436.55 160.8L436.60 235.8L436.66 160.5L436.71 157.7L436.77 235.8L436.83 158.1L436.88 235.8L436.94 168.1L437.00 235.8L437.05 159.6L437.11 235.8L437.16 158.8L437.22 235.8L437.28 168.2L437.33 160.3L437.39 235.8L437.44 160.5L437.50 235.8L437.56 164.3L437.61 235.8L437.67 163.4L437.73 235.8L437.78 161.9L437.84 157.7L437.89 235.8L437.95 158.3L438.01 235.8L438.06 162.7L438.12 235.8L438.18 160.6L438.23 235.8L438.29 164.1L438.34 235.8L438.40 166.2L438.46 159.6L438.51 235.8L438.57 160.7L438.63 235.8L438.68 163.3L438.74 235.8L438.79 158.5L438.85 235.8L438.91 166.0L438.96 159.8L439.02 235.8L439.08 165.5L439.13 235.8L439.19 161.7L439.24 235.8L439.30 166.6L439.36 162.5L439.41 235.8L439.47 164.4L439.52 235.8L439.58 163.3L439.64 235.8L439.69 164.4L439.75 235.8L439.81 163.5L439.86 235.8L439.92 161.3L439.97 235.8L440.03 158.1L440.09 162.8L440.14 235.8L440.20 160.3L440.26 235.8L440.31 161.3L440.37 235.8L440.42 173.4L440.48 235.8L440.54 161.6L440.59 157.4L440.65 235.8L440.71 161.4L440.76 235.8L440.82 172.4L440.87 235.8L440.93 164.5L440.99 235.8L441.04 161.1L441.10 159.6L441.16 235.8L441.21 161.5L441.27 235.8L441.32 157.1L441.38 235.8L441.44 160.7L441.49 235.8L441.55 164.6L441.61 235.8L441.66 167.8L441.72 170.7L441.77 159.7L441.83 163.5L441.89 163.6L441.94 154.2L442.00 157.8L442.05 162.7L442.11 164.6L442.17 161.2L442.22 160.8L442.28 154.2L442.34 152.7L442.39 166.2L442.45 170.0L442.50 157.7L442.56 165.5L442.62 162.7L442.67 166.3L442.73 166.9L442.79 155.9L442.84 161.2L442.90 165.1L442.95 151.2L443.01 164.2L443.07 160.8L443.12 167.3L443.18 161.0L443.24 165.9L443.29 162.7L443.35 162.2L443.40 173.6L443.46 154.0L443.52 158.7L443.57 167.3L443.63 155.1L443.69 160.5L443.74 151.5L443.80 152.3L443.85 235.8L443.91 161.0L443.97 160.0L444.02 166.2L444.08 162.0L444.13 166.4L444.19 159.2L444.25 162.4L444.30 159.0L444.36 163.9L444.42 164.6L444.47 150.6L444.53 162.1L444.58 153.2L444.64 155.9L444.70 164.7L444.75 166.2L444.81 235.8L444.87 162.7L444.92 164.4L444.98 165.3L445.03 161.8L445.09 163.1L445.15 162.0L445.20 166.0L445.26 163.6L445.32 163.8L445.37 154.6L445.43 162.3L445.48 158.9L445.54 158.1L445.60 161.1L445.65 158.4L445.71 171.4L445.77 235.8L445.82 160.7L445.88 164.5L445.93 150.3L445.99 163.5L446.05 151.7L446.10 159.2L446.16 160.4L446.22 164.8L446.27 161.6L446.33 166.5L446.38 164.6L446.44 152.1L446.50 166.2L446.55 171.1L446.61 168.5L446.66 170.2L446.72 235.8L446.78 164.8L446.83 162.5L446.89 154.9L446.95 165.4L447.00 164.2L447.06 157.0L447.11 163.8L447.17 164.4L447.23 167.1L447.28 152.7L447.34 160.5L447.40 155.4L447.45 161.9L447.51 161.3L447.56 165.0L447.62 160.6L447.68 158.3L447.73 164.9L447.79 160.5L447.85 160.8L447.90 164.8L447.96 164.0L448.01 159.9L448.07 161.7L448.13 168.3L448.18 160.4L448.24 165.3L448.30 169.0L448.35 162.9L448.41 167.4L448.46 235.8L448.52 169.8L448.58 166.0L448.63 164.2L448.69 158.3L448.74 164.3L448.80 163.2L448.86 163.6L448.91 165.9L448.97 150.5L449.03 165.0L449.08 161.9L449.14 162.5L449.19 155.9L449.25 166.5L449.31 162.2L449.36 159.2L449.42 159.1L449.48 160.2L449.53 159.8L449.59 160.5L449.64 161.7L449.70 163.5L449.76 156.9L449.81 154.0L449.87 152.2L449.93 165.6L449.98 165.9L450.04 168.0L450.09 163.5L450.15 151.8L450.21 159.6L450.26 235.8L450.32 164.3L450.38 161.0L450.43 158.7L450.49 164.4L450.54 159.5L450.60 159.8L450.66 162.8L450.71 163.2L450.77 158.2L450.83 165.2L450.88 162.1L450.94 160.6L450.99 160.4L451.05 165.7L451.11 158.1L451.16 165.6L451.22 162.5L451.27 164.2L451.33 172.6L451.39 165.2L451.44 161.9L451.50 173.1L451.56 161.5L451.61 145.9L451.67 166.9L451.72 152.8L451.78 164.9L451.84 164.2L451.89 162.6L451.95 160.4L452.01 235.8L452.06 159.3L452.12 163.5L452.17 162.1L452.23 161.6L452.29 160.5L452.34 164.0L452.40 163.1L452.46 153.0L452.51 157.4L452.57 151.0L452.62 163.1L452.68 163.5L452.74 150.9L452.79 160.8L452.85 168.4L452.91 167.5L452.96 162.2L453.02 165.2L453.07 165.0L453.13 163.8L453.19 163.0L453.24 166.0L453.30 160.4L453.36 235.8L453.41 169.2L453.47 157.7L453.52 164.1L453.58 235.8L453.64 165.9L453.69 166.3L453.75 235.8L453.80 161.4L453.86 165.3L453.92 162.5L453.97 235.8L454.03 161.9L454.09 162.1L454.14 164.6L454.20 235.8L454.25 165.7L454.31 163.5L454.37 174.1L454.42 235.8L454.48 161.5L454.54 165.1L454.59 235.8L454.65 158.9L454.70 160.8L454.76 161.8L454.82 235.8L454.87 165.0L454.93 159.8L454.99 163.2L455.04 235.8L455.10 173.7L455.15 153.6L455.21 235.8L455.27 156.8L455.32 160.0L455.38 161.6L455.44 235.8L455.49 163.7L455.55 167.1L455.60 235.8L455.66 166.2L455.72 163.2L455.77 158.7L455.83 164.2L455.88 235.8L455.94 163.3L456.00 160.8L456.05 235.8L456.11 165.8L456.17 157.3L456.22 235.8L456.28 166.7L456.33 157.8L456.39 169.7L456.45 168.1L456.50 164.9L456.56 158.6L456.62 157.8L456.67 165.9L456.73 160.8L456.78 162.7L456.84 165.9L456.90 151.8L456.95 166.6L457.01 159.7L457.07 164.7L457.12 167.6L457.18 154.4L457.23 168.8L457.29 164.3L457.35 168.0L457.40 157.3L457.46 167.5L457.52 161.9L457.57 161.5L457.63 166.4L457.68 159.5L457.74 167.3L457.80 161.2L457.85 162.3L457.91 160.1L457.97 162.3L458.02 167.5L458.08 158.5L458.13 166.1L458.19 163.2L458.25 168.8L458.30 165.5L458.36 162.6L458.41 154.8L458.47 159.1L458.53 163.6L458.58 164.7L458.64 159.9L458.70 164.6L458.75 167.7L458.81 162.0L458.86 159.8L458.92 117.7L458.98 174.6L459.03 152.5L459.09 161.3L459.15 163.2L459.20 165.6L459.26 152.6L459.31 165.2L459.37 166.5L459.43 160.0L459.48 164.6L459.54 166.2L459.60 167.1L459.65 160.6L459.71 162.7L459.76 157.9L459.82 157.3L459.88 159.0L459.93 166.2L459.99 164.8L460.05 160.9L460.10 165.8L460.16 170.4L460.21 165.3L460.27 162.9L460.33 159.3L460.38 159.4L460.44 168.2L460.49 163.4L460.55 161.6L460.61 166.9L460.66 235.8L460.72 159.0L460.78 167.1L460.83 158.8L460.89 167.8L460.94 162.7L461.00 166.5L461.06 163.2L461.11 166.2L461.17 167.5L461.23 161.9L461.28 164.0L461.34 162.4L461.39 166.1L461.45 162.6L461.51 155.9L461.56 235.8L461.62 161.8L461.68 165.7L461.73 152.7L461.79 167.1L461.84 162.9L461.90 165.1L461.96 161.9L462.01 165.9L462.07 163.7L462.13 165.2L462.18 165.6L462.24 166.1L462.29 171.2L462.35 165.0L462.41 235.8L462.46 160.8L462.52 164.0L462.58 166.0L462.63 159.9L462.69 159.4L462.74 168.2L462.80 164.0L462.86 160.1L462.91 170.2L462.97 163.6L463.02 164.9L463.08 163.4L463.14 169.7L463.19 166.9L463.25 235.8L463.31 168.4L463.36 169.0L463.42 154.3L463.47 160.8L463.53 166.8L463.59 158.3L463.64 175.3L463.70 161.9L463.76 154.4L463.81 161.3L463.87 162.3L463.92 158.2L463.98 168.6L464.04 163.5L464.09 161.0L464.15 159.5L464.21 163.3L464.26 164.0L464.32 163.9L464.37 163.3L464.43 160.6L464.49 168.8L464.54 169.8L464.60 165.2L464.66 154.4L464.71 165.6L464.77 161.5L464.82 165.5L464.88 169.0L464.94 166.6L464.99 163.7L465.05 235.8L465.11 170.7L465.16 157.0L465.22 159.9L465.27 155.9L465.33 165.9L465.39 174.4L465.44 163.1L465.50 173.4L465.55 166.6L465.61 162.4L465.67 164.6L465.72 168.6L465.78 162.4L465.84 166.7L465.89 162.6L465.95 165.1L466.00 163.2L466.06 166.3L466.12 164.5L466.17 169.2L466.23 165.8L466.29 167.6L466.34 165.7L466.40 154.9L466.45 163.1L466.51 169.0L466.57 152.0L466.62 167.4L466.68 166.4L466.74 159.2L466.79 235.8L466.85 164.0L466.90 154.3L466.96 165.0L467.02 167.9L467.07 160.1L467.13 166.7L467.19 154.2L467.24 175.4L467.30 162.6L467.35 163.7L467.41 163.8L467.47 162.7L467.52 169.2L467.58 152.1L467.63 168.0L467.69 158.6L467.75 169.0L467.80 166.5L467.86 164.0L467.92 165.1L467.97 166.2L468.03 165.4L468.08 159.5L468.14 163.5L468.20 166.2L468.25 165.6L468.31 164.5L468.37 157.6L468.42 153.7L468.48 164.4L468.53 235.8L468.59 160.5L468.65 158.5L468.70 164.4L468.76 164.0L468.82 153.2L468.87 169.1L468.93 159.2L468.98 166.7L469.04 164.7L469.10 166.2L469.15 163.7L469.21 158.2L469.27 162.5L469.32 166.4L469.38 164.3L469.43 163.8L469.49 163.1L469.55 161.4L469.60 163.8L469.66 145.9L469.72 166.4L469.77 158.4L469.83 165.0L469.88 164.6L469.94 166.5L470.00 155.8L470.05 173.4L470.11 168.0L470.16 166.4L470.22 165.3L470.28 235.8L470.33 163.0L470.39 164.9L470.45 162.5L470.50 162.9L470.56 164.1L470.61 162.3L470.67 166.1L470.73 160.4L470.78 162.9L470.84 157.2L470.90 168.6L470.95 165.8L471.01 166.1L471.06 156.0L471.12 153.5L471.18 164.6L471.23 166.8L471.29 165.3L471.35 167.2L471.40 165.3L471.46 170.2L471.51 163.5L471.57 164.9L471.63 167.6L471.68 164.2L471.74 166.9L471.80 165.4L471.85 160.0L471.91 163.7L471.96 163.2L472.02 165.4L472.08 169.0L472.13 160.3L472.19 161.1L472.24 163.8L472.30 165.4L472.36 165.7L472.41 158.3L472.47 159.3L472.53 164.6L472.58 157.7L472.64 160.1L472.69 161.4L472.75 166.4L472.81 159.1L472.86 167.5L472.92 155.7L472.98 152.7L473.03 160.9L473.09 170.1L473.14 168.2L473.20 164.2L473.26 164.1L473.31 166.2L473.37 159.8L473.43 159.4L473.48 160.5L473.54 166.7L473.59 160.9L473.65 235.8L473.71 165.1L473.76 165.6L473.82 162.0L473.88 162.5L473.93 163.5L473.99 168.5L474.04 161.7L474.10 167.5L474.16 168.1L474.21 157.1L474.27 164.0L474.33 162.8L474.38 162.4L474.44 167.8L474.49 174.6L474.55 235.8L474.61 167.8L474.66 163.8L474.72 166.7L474.77 166.8L474.83 166.3L474.89 164.8L474.94 160.4L475.00 160.5L475.06 164.4L475.11 152.9L475.17 156.2L475.22 167.6L475.28 166.4L475.34 159.6L475.39 235.8L475.45 153.3L475.51 160.6L475.56 163.2L475.62 160.3L475.67 158.4L475.73 162.6L475.79 169.9L475.84 164.2L475.90 165.3L475.96 164.8L476.01 168.3L476.07 165.9L476.12 165.2L476.18 167.3L476.24 162.1L476.29 235.8L476.35 164.9L476.41 165.5L476.46 163.2L476.52 164.8L476.57 163.9L476.63 160.1L476.69 167.7L476.74 159.5L476.80 161.9L476.85 160.7L476.91 163.9L476.97 152.5L477.02 164.3L477.08 164.7L477.14 163.3L477.19 166.7L477.25 235.8L477.30 161.3L477.36 160.4L477.42 163.9L477.47 235.8L477.53 166.7L477.59 163.0L477.64 235.8L477.70 161.9L477.75 165.0L477.81 161.1L477.87 235.8L477.92 159.8L477.98 158.4L478.04 235.8L478.09 162.7L478.15 164.6L478.20 159.2L478.26 235.8L478.32 160.6L478.37 163.6L478.43 235.8L478.49 157.9L478.54 164.7L478.60 163.9L478.65 235.8L478.71 166.1L478.77 166.1L478.82 235.8L478.88 164.4L478.94 161.7L478.99 159.4L479.05 235.8L479.10 165.0L479.16 161.9L479.22 162.8L479.27 235.8L479.33 161.5L479.38 172.0L479.44 167.4L479.50 160.5L479.55 163.7L479.61 160.6L479.67 163.1L479.72 160.1L479.78 160.6L479.83 155.5L479.89 163.2L479.95 235.8L480.00 156.3L480.06 163.8L480.12 164.2L480.17 169.1L480.23 161.3L480.28 235.8L480.34 155.0L480.40 158.9L480.45 165.9L480.51 163.6L480.57 168.3L480.62 235.8L480.68 163.9L480.73 154.6L480.79 163.0L480.85 161.1L480.90 166.1L480.96 235.8L481.02 159.7L481.07 163.6L481.13 155.4L481.18 160.7L481.24 169.5L481.30 235.8L481.35 162.9L481.41 159.8L481.47 166.3L481.52 162.9L481.58 165.7L481.63 235.8L481.69 168.5L481.75 166.5L481.80 170.2L481.86 167.7L481.91 158.1L481.97 160.5L482.03 235.8L482.08 170.4L482.14 163.5L482.20 162.3L482.25 166.9L482.31 235.8L482.36 162.9L482.42 164.3L482.48 159.5L482.53 165.3L482.59 161.0L482.65 235.8L482.70 163.8L482.76 165.7L482.81 160.2L482.87 166.7L482.93 164.8L482.98 162.2L483.04 163.3L483.10 162.5L483.15 160.8L483.21 161.7L483.26 163.2L483.32 165.7L483.38 161.8L483.43 168.0L483.49 166.6L483.55 164.3L483.60 164.9L483.66 152.1L483.71 160.7L483.77 164.2L483.83 166.9L483.88 235.8L483.94 163.0L483.99 165.4L484.05 164.9L484.11 163.7L484.16 174.2L484.22 162.9L484.28 166.0L484.33 160.5L484.39 166.4L484.44 167.7L484.50 155.3L484.56 165.2L484.61 166.5L484.67 163.5L484.73 167.8L484.78 155.9L484.84 165.5L484.89 166.7L484.95 157.4L485.01 164.3L485.06 169.7L485.12 160.9L485.18 164.0L485.23 167.4L485.29 163.9L485.34 169.2L485.40 161.6L485.46 161.0L485.51 163.7L485.57 161.6L485.63 164.8L485.68 166.1L485.74 158.4L485.79 167.8L485.85 161.6L485.91 164.1L485.96 166.5L486.02 157.8L486.08 159.1L486.13 155.2L486.19 235.8L486.24 159.4L486.30 163.5L486.36 162.0L486.41 164.5L486.47 172.5L486.52 164.6L486.58 160.4L486.64 163.5L486.69 159.3L486.75 165.5L486.81 164.8L486.86 161.7L486.92 164.6L486.97 163.7L487.03 164.1L487.09 163.3L487.14 164.2L487.20 164.9L487.26 167.8L487.31 146.8L487.37 155.8L487.42 156.3L487.48 163.3L487.54 169.0L487.59 166.6L487.65 167.7L487.71 161.5L487.76 161.8L487.82 235.8L487.87 163.8L487.93 162.5L487.99 158.8L488.04 165.6L488.10 168.1L488.16 168.0L488.21 164.9L488.27 166.6L488.32 168.4L488.38 162.7L488.44 162.5L488.49 165.5L488.55 167.5L488.60 164.2L488.66 160.7L488.72 235.8L488.77 173.1L488.83 163.4L488.89 174.2L488.94 160.9L489.00 166.9L489.05 154.6L489.11 160.9L489.17 167.3L489.22 162.5L489.28 151.7L489.34 169.5L489.39 151.8L489.45 167.6L489.50 160.9L489.56 163.2L489.62 172.9L489.67 160.8L489.73 160.6L489.79 171.7L489.84 160.2L489.90 161.9L489.95 153.0L490.01 165.0L490.07 173.2L490.12 165.2L490.18 162.0L490.24 154.3L490.29 162.1L490.35 168.0L490.40 164.2L490.46 159.4L490.52 164.9L490.57 162.7L490.63 163.8L490.69 163.9L490.74 165.4L490.80 166.7L490.85 165.7L490.91 159.9L490.97 235.8L491.02 164.0L491.08 153.6L491.13 166.6L491.19 235.8L491.25 168.9L491.30 167.1L491.36 157.3L491.42 235.8L491.47 161.2L491.53 151.7L491.58 235.8L491.64 165.4L491.70 167.1L491.75 151.5L491.81 235.8L491.87 167.2L491.92 159.5L491.98 235.8L492.03 168.2L492.09 157.3L492.15 166.9L492.20 235.8L492.26 161.9L492.32 164.6L492.37 235.8L492.43 162.1L492.48 164.3L492.54 166.0L492.60 235.8L492.65 161.4L492.71 164.8L492.77 235.8L492.82 167.2L492.88 169.0L492.93 165.6L492.99 235.8L493.05 161.0L493.10 165.5L493.16 235.8L493.22 174.7L493.27 170.6L493.33 158.5L493.38 235.8L493.44 163.8L493.50 163.5L493.55 235.8L493.61 154.5L493.66 163.4L493.72 159.3L493.78 235.8L493.83 167.3L493.89 164.6L493.95 235.8L494.00 165.9L494.06 163.8L494.11 162.2L494.17 235.8L494.23 166.3L494.28 162.3L494.34 166.7L494.40 235.8L494.45 171.7L494.51 164.9L494.56 235.8L494.62 174.0L494.68 158.1L494.73 235.8L494.79 159.5L494.85 159.7L494.90 162.5L494.96 235.8L495.01 161.8L495.07 173.1L495.13 158.5L495.18 235.8L495.24 159.2L495.30 173.3L495.35 161.1L495.41 162.7L495.46 163.0L495.52 168.2L495.58 162.4L495.63 164.1L495.69 165.1L495.74 235.8L495.80 165.3L495.86 162.9L495.91 161.2L495.97 165.3L496.03 164.1L496.08 167.3L496.14 166.2L496.19 158.3L496.25 161.5L496.31 164.1L496.36 172.1L496.42 160.5L496.48 161.6L496.53 165.4L496.59 164.5L496.64 160.7L496.70 235.8L496.76 168.9L496.81 156.6L496.87 160.3L496.93 166.0L496.98 160.4L497.04 165.0L497.09 158.1L497.15 159.1L497.21 164.7L497.26 162.8L497.32 161.4L497.38 165.0L497.43 163.3L497.49 162.5L497.54 164.9L497.60 163.3L497.66 235.8L497.71 160.8L497.77 163.7L497.83 159.9L497.88 161.9L497.94 164.1L497.99 155.3L498.05 161.9L498.11 169.0L498.16 152.1L498.22 158.7L498.27 163.7L498.33 160.5L498.39 162.6L498.44 159.9L498.50 156.9L498.56 235.8L498.61 168.0L498.67 161.3L498.72 160.9L498.78 168.9L498.84 155.0L498.89 160.7L498.95 166.4L499.01 160.2L499.06 152.0L499.12 167.0L499.17 166.9L499.23 154.2L499.29 166.7L499.34 160.9L499.40 165.0L499.46 165.4L499.51 235.8L499.57 166.0L499.62 163.5L499.68 164.8L499.74 166.2L499.79 165.2L499.85 164.2L499.91 160.6L499.96 161.5L500.02 174.8L500.07 163.4L500.13 164.7L500.19 163.1L500.24 172.0L500.30 161.3L500.35 161.2L500.41 159.1L500.47 157.9L500.52 160.3L500.58 162.5L500.64 158.2L500.69 163.2L500.75 167.9L500.80 167.6L500.86 164.2L500.92 162.7L500.97 157.5L501.03 166.5L501.09 162.3L501.14 167.8L501.20 160.2L501.25 167.3L501.31 160.6L501.37 162.8L501.42 165.8L501.48 167.5L501.54 167.1L501.59 160.9L501.65 160.7L501.70 164.1L501.76 156.4L501.82 161.4L501.87 162.4L501.93 161.2L501.99 166.6L502.04 235.8L502.10 155.5L502.15 163.4L502.21 161.6L502.27 159.5L502.32 162.6L502.38 162.8L502.44 163.3L502.49 159.1L502.55 160.4L502.60 163.1L502.66 166.9L502.72 235.8L502.77 165.7L502.83 165.0L502.88 152.8L502.94 161.4L503.00 161.1L503.05 159.8L503.11 157.7L503.17 142.8L503.22 154.3L503.28 163.3L503.33 156.3L503.39 167.1L503.45 168.5L503.50 160.7L503.56 158.0L503.62 158.0L503.67 165.0L503.73 166.9L503.78 166.7L503.84 167.8L503.90 162.8L503.95 156.3L504.01 163.9L504.07 160.5L504.12 162.2L504.18 159.0L504.23 159.2L504.29 157.6L504.35 172.9L504.40 160.5L504.46 164.5L504.52 160.7L504.57 157.4L504.63 161.4L504.68 165.1L504.74 159.8L504.80 153.6L504.85 159.6L504.91 161.7L504.96 158.5L505.02 155.5L505.08 156.4L505.13 147.1L505.19 161.5L505.25 145.9L505.30 151.3L505.36 163.8L505.41 160.5L505.47 165.0L505.53 154.5L505.58 155.7L505.64 144.8L505.70 155.9L505.75 161.1L505.81 147.6L505.86 162.0L505.92 164.9L505.98 160.5L506.03 159.7L506.09 158.3L506.15 142.3L506.20 161.1L506.26 142.9L506.31 160.7L506.37 169.2L506.43 149.9L506.48 158.5L506.54 160.9L506.60 143.4L506.65 145.4L506.71 151.9L506.76 147.9L506.82 159.5L506.88 160.0L506.93 153.5L506.99 157.5L507.05 139.3L507.10 166.3L507.16 160.1L507.21 157.9L507.27 152.9L507.33 235.8L507.38 166.0L507.44 153.5L507.49 159.8L507.55 151.3L507.61 138.3L507.66 156.0L507.72 159.5L507.78 157.9L507.83 165.9L507.89 160.1L507.94 166.2L508.00 153.7L508.06 144.8L508.11 165.6L508.17 158.4L508.23 159.3L508.28 147.9L508.34 151.5L508.39 151.9L508.45 153.9L508.51 155.7L508.56 161.0L508.62 146.1L508.68 164.5L508.73 158.3L508.79 143.8L508.84 123.1L508.90 160.8L508.96 165.6L509.01 157.8L509.07 164.0L509.13 149.8L509.18 168.6L509.24 146.7L509.29 146.9L509.35 143.0L509.41 155.7L509.46 148.2L509.52 127.1L509.58 149.0L509.63 169.0L509.69 157.0L509.74 159.9L509.80 167.9L509.86 154.8L509.91 150.7L509.97 157.0L510.02 160.8L510.08 147.0L510.14 163.6L510.19 157.1L510.25 150.1L510.31 162.0L510.36 143.4L510.42 169.3L510.47 144.8L510.53 151.0L510.59 148.6L510.64 165.8L510.70 154.1L510.76 121.1L510.81 162.3L510.87 153.6L510.92 141.1L510.98 167.6L511.04 141.7L511.09 143.0L511.15 136.8L511.21 155.3L511.26 147.7L511.32 132.6L511.37 133.6L511.43 134.7L511.49 150.8L511.54 126.9L511.60 128.5L511.66 100.9L511.71 165.0L511.77 139.4L511.82 143.7L511.88 134.8L511.94 128.6L511.99 151.6L512.05 165.7L512.10 143.7L512.16 113.3L512.22 114.7L512.27 145.5L512.33 107.0L512.39 120.0L512.44 138.8L512.50 126.9L512.55 155.2L512.61 122.8L512.67 122.2L512.72 115.4L512.78 169.3L512.84 167.1L512.89 115.5L512.95 121.6L513.00 129.4L513.06 150.5L513.12 99.9L513.17 103.3L513.23 119.4L513.29 156.2L513.34 120.5L513.40 163.3L513.45 106.4L513.51 168.7L513.57 124.5L513.62 142.0L513.68 109.0L513.74 156.4L513.79 116.9L513.85 130.4L513.90 118.6L513.96 134.2L514.02 136.4L514.07 167.0L514.13 100.3L514.19 117.3L514.24 123.1L514.30 133.3L514.35 153.9L514.41 156.9L514.47 124.0L514.52 120.7L514.58 105.0L514.63 143.1L514.69 121.1L514.75 142.4L514.80 119.9L514.86 117.6L514.92 110.8L514.97 97.9L515.03 130.2L515.08 163.5L515.14 127.7L515.20 109.4L515.25 141.0L515.31 128.1L515.37 129.3L515.42 131.5L515.48 125.8L515.53 81.0L515.59 157.4L515.65 153.6L515.70 153.6L515.76 113.2L515.82 151.8L515.87 143.7L515.93 155.6L515.98 141.8L516.04 101.5L516.10 106.5L516.15 135.6L516.21 104.9L516.27 110.8L516.32 161.5L516.38 126.5L516.43 103.7L516.49 115.7L516.55 118.5L516.60 154.5L516.66 123.4L516.71 116.1L516.77 143.6L516.83 115.0L516.88 97.9L516.94 144.6L517.00 101.0L517.05 135.8L517.11 143.6L517.16 156.4L517.22 163.0L517.28 150.2L517.33 147.4L517.39 161.2L517.45 158.3L517.50 144.8L517.56 141.9L517.61 126.1L517.67 142.0L517.73 155.8L517.78 139.9L517.84 151.0L517.90 163.1L517.95 146.5L518.01 159.8L518.06 161.0L518.12 153.6L518.18 152.8L518.23 147.5L518.29 149.4L518.35 158.8L518.40 159.2L518.46 153.6L518.51 141.3L518.57 156.3L518.63 156.4L518.68 159.4L518.74 147.1L518.80 159.8L518.85 151.0L518.91 156.6L518.96 161.3L519.02 151.9L519.08 144.4L519.13 144.9L519.19 148.6L519.24 156.2L519.30 148.8L519.36 235.8L519.41 152.6L519.47 157.5L519.53 152.1L519.58 235.8L519.64 160.0L519.69 147.0L519.75 235.8L519.81 159.8L519.86 154.5L519.92 153.8L519.98 235.8L520.03 151.6L520.09 152.1L520.14 235.8L520.20 151.9L520.26 149.1L520.31 150.8L520.37 235.8L520.43 156.6L520.48 153.8L520.54 152.6L520.59 235.8L520.65 158.3L520.71 155.8L520.76 154.1L520.82 235.8L520.88 155.5L520.93 154.8L520.99 235.8L521.04 138.3L521.10 155.3L521.16 149.0L521.21 235.8L521.27 158.5L521.33 157.3L521.38 235.8L521.44 154.1L521.49 144.5L521.55 155.7L521.61 235.8L521.66 151.1L521.72 152.6L521.77 235.8L521.83 152.2L521.89 152.5L521.94 153.6L522.00 235.8L522.06 151.5L522.11 155.4L522.17 157.5L522.22 235.8L522.28 156.7L522.34 150.0L522.39 150.4L522.45 157.3L522.51 235.8L522.56 154.7L522.62 150.2L522.67 150.2L522.73 153.5L522.79 154.0L522.84 235.8L522.90 154.9L522.96 158.8L523.01 158.2L523.07 156.4L523.12 149.5L523.18 235.8L523.24 153.4L523.29 154.5L523.35 151.4L523.41 154.5L523.46 156.8L523.52 154.3L523.57 235.8L523.63 156.6L523.69 157.2L523.74 151.2L523.80 148.4L523.85 144.7L523.91 235.8L523.97 147.0L524.02 139.3L524.08 159.6L524.14 151.8L524.19 158.8L524.25 152.6L524.30 158.8L524.36 155.2L524.42 163.1L524.47 162.3L524.53 235.8L524.59 156.9L524.64 143.7L524.70 163.5L524.75 151.0L524.81 151.3L524.87 149.7L524.92 151.1L524.98 157.1L525.04 143.5L525.09 144.7L525.15 153.5L525.20 160.5L525.26 157.7L525.32 155.6L525.37 157.0L525.43 154.6L525.49 235.8L525.54 158.0L525.60 155.0L525.65 149.9L525.71 157.5L525.77 151.7L525.82 151.8L525.88 157.0L525.94 156.1L525.99 153.8L526.05 154.4L526.10 153.4L526.16 150.5L526.22 152.9L526.27 151.3L526.33 151.5L526.38 235.8L526.44 153.5L526.50 149.6L526.55 153.8L526.61 154.4L526.67 164.8L526.72 152.1L526.78 146.6L526.83 161.3L526.89 152.1L526.95 146.6L527.00 154.2L527.06 150.7L527.12 154.5L527.17 151.1L527.23 157.5L527.28 235.8L527.34 148.9L527.40 163.5L527.45 162.8L527.51 153.4L527.57 155.8L527.62 150.1L527.68 158.6L527.73 160.1L527.79 155.6L527.85 157.4L527.90 154.2L527.96 152.3L528.02 155.0L528.07 155.7L528.13 152.8L528.18 235.8L528.24 161.2L528.30 117.6L528.35 154.5L528.41 155.1L528.46 151.9L528.52 155.0L528.58 149.3L528.63 154.4L528.69 161.2L528.75 156.3L528.80 159.2L528.86 150.9L528.91 152.3L528.97 157.3L529.03 148.3L529.08 235.8L529.14 154.0L529.20 156.4L529.25 152.9L529.31 154.7L529.36 156.5L529.42 149.2L529.48 154.3L529.53 154.5L529.59 157.3L529.65 154.8L529.70 235.8L529.76 151.1L529.81 154.4L529.87 235.8L529.93 149.9L529.98 153.1L530.04 152.7L530.10 235.8L530.15 156.1L530.21 154.4L530.26 154.3L530.32 235.8L530.38 154.0L530.43 149.0L530.49 151.6L530.55 235.8L530.60 156.2L530.66 152.2L530.71 151.7L530.77 235.8L530.83 154.4L530.88 156.6L530.94 140.3L530.99 152.7L531.05 155.7L531.11 154.9L531.16 155.2L531.22 154.2L531.28 155.0L531.33 156.7L531.39 158.6L531.44 235.8L531.50 161.0L531.56 158.4L531.61 142.8L531.67 157.2L531.73 143.1L531.78 156.0L531.84 150.8L531.89 152.7L531.95 153.6L532.01 153.2L532.06 152.9L532.12 157.3L532.18 235.8L532.23 154.1L532.29 153.3L532.34 235.8L532.40 158.3L532.46 158.7L532.51 152.9L532.57 235.8L532.63 163.0L532.68 155.2L532.74 235.8L532.79 157.6L532.85 151.9L532.91 156.5L532.96 235.8L533.02 155.9L533.07 148.8L533.13 153.8L533.19 235.8L533.24 155.5L533.30 155.0L533.36 235.8L533.41 158.8L533.47 151.2L533.52 155.7L533.58 235.8L533.64 150.9L533.69 152.3L533.75 160.0L533.81 235.8L533.86 155.2L533.92 149.9L533.97 235.8L534.03 150.2L534.09 156.0L534.14 160.2L534.20 235.8L534.26 154.1L534.31 148.0L534.37 156.0L534.42 235.8L534.48 153.6L534.54 153.4L534.59 235.8L534.65 148.2L534.71 152.4L534.76 146.6L534.82 235.8L534.87 151.6L534.93 145.4L534.99 235.8L535.04 154.4L535.10 151.8L535.16 151.8L535.21 150.8L535.27 235.8L535.32 235.8" fill="none" stroke="#1f77b4" stroke-width="0.38" stroke-linejoin="round"/>
<g class="ta">
<text x="18.8" y="236.8" text-anchor="end">0</text>
<text x="18.8" y="196.4" text-anchor="end">10</text>
<text x="18.8" y="156.1" text-anchor="end">20</text>
<text x="18.8" y="115.6" text-anchor="end">30</text>
<text x="18.8" y="75.2" text-anchor="end">40</text>
<text x="18.8" y="34.8" text-anchor="end">50</text>
<text x="31.8" y="251.2" text-anchor="middle">0</text>
<text x="60.2" y="251.2" text-anchor="middle">500</text>
<text x="88.6" y="251.2" text-anchor="middle">1000</text>
<text x="117.0" y="251.2" text-anchor="middle">1500</text>
<text x="145.4" y="251.2" text-anchor="middle">2000</text>
<text x="173.8" y="251.2" text-anchor="middle">2500</text>
<text x="202.1" y="251.2" text-anchor="middle">3000</text>
<text x="230.5" y="251.2" text-anchor="middle">3500</text>
<text x="258.9" y="251.2" text-anchor="middle">4000</text>
<text x="148.3" y="258.6" text-anchor="middle" font-size="5.7">Waveform Count</text>
<text transform="translate(8.6,124.3) rotate(-90)" text-anchor="middle" font-size="6.6">Excessive ΔV counts</text>
</g>
<g class="tb">
<text x="298" y="209.5" text-anchor="end">−10</text>
<text x="298" y="168.9" text-anchor="end">0</text>
<text x="298" y="128.3" text-anchor="end">10</text>
<text x="298" y="87.7" text-anchor="end">20</text>
<text x="298" y="47.1" text-anchor="end">30</text>
<text x="310.1" y="254" text-anchor="middle">0</text>
<line x1="310.1" x2="310.1" y1="246.5" y2="248" stroke="#d0d0d0" stroke-width="0.6"/>
<text x="338.4" y="254" text-anchor="middle">500</text>
<line x1="338.4" x2="338.4" y1="246.5" y2="248" stroke="#d0d0d0" stroke-width="0.6"/>
<text x="366.7" y="254" text-anchor="middle">1000</text>
<line x1="366.7" x2="366.7" y1="246.5" y2="248" stroke="#d0d0d0" stroke-width="0.6"/>
<text x="395.0" y="254" text-anchor="middle">1500</text>
<line x1="395.0" x2="395.0" y1="246.5" y2="248" stroke="#d0d0d0" stroke-width="0.6"/>
<text x="423.3" y="254" text-anchor="middle">2000</text>
<line x1="423.3" x2="423.3" y1="246.5" y2="248" stroke="#d0d0d0" stroke-width="0.6"/>
<text x="451.6" y="254" text-anchor="middle">2500</text>
<line x1="451.6" x2="451.6" y1="246.5" y2="248" stroke="#d0d0d0" stroke-width="0.6"/>
<text x="479.9" y="254" text-anchor="middle">3000</text>
<line x1="479.9" x2="479.9" y1="246.5" y2="248" stroke="#d0d0d0" stroke-width="0.6"/>
<text x="508.2" y="254" text-anchor="middle">3500</text>
<line x1="508.2" x2="508.2" y1="246.5" y2="248" stroke="#d0d0d0" stroke-width="0.6"/>
<text x="536.5" y="254" text-anchor="middle">4000</text>
<line x1="536.5" x2="536.5" y1="246.5" y2="248" stroke="#d0d0d0" stroke-width="0.6"/>
<text x="427.9" y="260" text-anchor="middle" font-size="5.6">Waveform Count</text>
<text transform="translate(284.6,125.7) rotate(-90)" text-anchor="middle" font-size="5.8">Excessive ΔV counts</text>
</g>
<text class="cap" x="136.4" y="282.5" text-anchor="middle">(<tspan font-weight="bold" font-size="12px">a</tspan>)</text>
<text class="cap" x="413.6" y="282.5" text-anchor="middle">(<tspan font-weight="bold" font-size="12px">b</tspan>)</text>
</svg>
</body></html>
